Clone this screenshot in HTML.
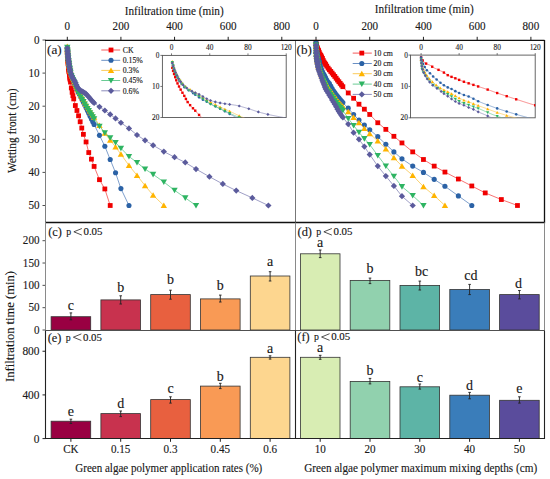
<!DOCTYPE html><html><head><meta charset="utf-8"><style>html,body{margin:0;padding:0;width:550px;height:479px;overflow:hidden;background:#fff;font-family:"Liberation Serif", serif} text{stroke:currentColor;stroke-width:0.12px;paint-order:fill}</style></head><body><svg width="550" height="479" viewBox="0 0 550 479" style="position:absolute;left:0;top:0">
<rect width="550" height="479" fill="#fff"/>
<g font-family='"Liberation Serif", serif' fill="#1a1a1a">
<text x="174.2" y="15" font-size="11.8" text-anchor="middle" textLength="99" lengthAdjust="spacingAndGlyphs">Infiltration time (min)</text>
<text x="424.2" y="13.1" font-size="11.8" text-anchor="middle" textLength="99" lengthAdjust="spacingAndGlyphs">Infiltration time (min)</text>
<text x="67.3" y="29.9" font-size="12" text-anchor="middle" textLength="5.55" lengthAdjust="spacingAndGlyphs">0</text>
<text x="316" y="29.9" font-size="12" text-anchor="middle" textLength="5.55" lengthAdjust="spacingAndGlyphs">0</text>
<text x="120.92" y="29.9" font-size="12" text-anchor="middle" textLength="16.65" lengthAdjust="spacingAndGlyphs">200</text>
<text x="369.73" y="29.9" font-size="12" text-anchor="middle" textLength="16.65" lengthAdjust="spacingAndGlyphs">200</text>
<text x="174.55" y="29.9" font-size="12" text-anchor="middle" textLength="16.65" lengthAdjust="spacingAndGlyphs">400</text>
<text x="423.45" y="29.9" font-size="12" text-anchor="middle" textLength="16.65" lengthAdjust="spacingAndGlyphs">400</text>
<text x="228.18" y="29.9" font-size="12" text-anchor="middle" textLength="16.65" lengthAdjust="spacingAndGlyphs">600</text>
<text x="477.18" y="29.9" font-size="12" text-anchor="middle" textLength="16.65" lengthAdjust="spacingAndGlyphs">600</text>
<text x="281.8" y="29.9" font-size="12" text-anchor="middle" textLength="16.65" lengthAdjust="spacingAndGlyphs">800</text>
<text x="530.9" y="29.9" font-size="12" text-anchor="middle" textLength="16.65" lengthAdjust="spacingAndGlyphs">800</text>
<text x="39.5" y="43.6" font-size="12" text-anchor="end" textLength="5.55" lengthAdjust="spacingAndGlyphs">0</text>
<text x="39.5" y="76.7" font-size="12" text-anchor="end" textLength="11.1" lengthAdjust="spacingAndGlyphs">10</text>
<text x="39.5" y="109.8" font-size="12" text-anchor="end" textLength="11.1" lengthAdjust="spacingAndGlyphs">20</text>
<text x="39.5" y="142.9" font-size="12" text-anchor="end" textLength="11.1" lengthAdjust="spacingAndGlyphs">30</text>
<text x="39.5" y="176" font-size="12" text-anchor="end" textLength="11.1" lengthAdjust="spacingAndGlyphs">40</text>
<text x="39.5" y="209.1" font-size="12" text-anchor="end" textLength="11.1" lengthAdjust="spacingAndGlyphs">50</text>
<text x="0" y="0" font-size="11.5" text-anchor="middle" textLength="84.5" lengthAdjust="spacingAndGlyphs" transform="translate(16.1,130.7) rotate(-90)">Wetting front (cm)</text>
<text x="39.5" y="333.5" font-size="12" text-anchor="end" textLength="5.55" lengthAdjust="spacingAndGlyphs">0</text>
<text x="39.5" y="311.18" font-size="12" text-anchor="end" textLength="11.1" lengthAdjust="spacingAndGlyphs">50</text>
<text x="39.5" y="288.85" font-size="12" text-anchor="end" textLength="16.65" lengthAdjust="spacingAndGlyphs">100</text>
<text x="39.5" y="266.52" font-size="12" text-anchor="end" textLength="16.65" lengthAdjust="spacingAndGlyphs">150</text>
<text x="39.5" y="244.2" font-size="12" text-anchor="end" textLength="16.65" lengthAdjust="spacingAndGlyphs">200</text>
<text x="39.5" y="442.7" font-size="12.5" text-anchor="end" textLength="5.7" lengthAdjust="spacingAndGlyphs">0</text>
<text x="39.5" y="399.02" font-size="12.5" text-anchor="end" textLength="17.1" lengthAdjust="spacingAndGlyphs">400</text>
<text x="39.5" y="355.34" font-size="12.5" text-anchor="end" textLength="17.1" lengthAdjust="spacingAndGlyphs">800</text>
<text x="0" y="0" font-size="12.2" text-anchor="middle" textLength="111" lengthAdjust="spacingAndGlyphs" transform="translate(14,326.5) rotate(-90)">Infiltration time (min)</text>
<text x="70.9" y="453.3" font-size="12" text-anchor="middle" textLength="15.42" lengthAdjust="spacingAndGlyphs">CK</text>
<text x="320.2" y="453.3" font-size="12" text-anchor="middle" textLength="11.1" lengthAdjust="spacingAndGlyphs">10</text>
<text x="120.7" y="453.3" font-size="12" text-anchor="middle" textLength="19.43" lengthAdjust="spacingAndGlyphs">0.15</text>
<text x="370" y="453.3" font-size="12" text-anchor="middle" textLength="11.1" lengthAdjust="spacingAndGlyphs">20</text>
<text x="170.5" y="453.3" font-size="12" text-anchor="middle" textLength="13.88" lengthAdjust="spacingAndGlyphs">0.3</text>
<text x="419.8" y="453.3" font-size="12" text-anchor="middle" textLength="11.1" lengthAdjust="spacingAndGlyphs">30</text>
<text x="220.3" y="453.3" font-size="12" text-anchor="middle" textLength="19.43" lengthAdjust="spacingAndGlyphs">0.45</text>
<text x="469.6" y="453.3" font-size="12" text-anchor="middle" textLength="11.1" lengthAdjust="spacingAndGlyphs">40</text>
<text x="270.1" y="453.3" font-size="12" text-anchor="middle" textLength="13.88" lengthAdjust="spacingAndGlyphs">0.6</text>
<text x="519.4" y="453.3" font-size="12" text-anchor="middle" textLength="11.1" lengthAdjust="spacingAndGlyphs">50</text>
<text x="168.8" y="471.5" font-size="12" text-anchor="middle" textLength="187" lengthAdjust="spacingAndGlyphs">Green algae polymer application rates (%)</text>
<text x="420.7" y="471.5" font-size="12" text-anchor="middle" textLength="233" lengthAdjust="spacingAndGlyphs">Green algae polymer maximum mixing depths (cm)</text>
<text x="47" y="53.5" font-size="13.2" text-anchor="start" >(a)</text>
<text x="296.5" y="53.5" font-size="13.2" text-anchor="start" >(b)</text>
<text x="48.2" y="236.1" font-size="12.4" text-anchor="start" >(c)</text>
<text x="66.26" y="235.2" font-size="9.8" text-anchor="start" >p</text>
<path d="M81.86 228.5L73.86 231.8L81.86 235.1" stroke="#333" stroke-width="0.85" fill="none"/>
<text x="83.46" y="235.2" font-size="10" text-anchor="start" textLength="19" lengthAdjust="spacingAndGlyphs">0.05</text>
<text x="297.5" y="236.1" font-size="12.4" text-anchor="start" >(d)</text>
<text x="316.26" y="235.2" font-size="9.8" text-anchor="start" >p</text>
<path d="M331.86 228.5L323.86 231.8L331.86 235.1" stroke="#333" stroke-width="0.85" fill="none"/>
<text x="333.46" y="235.2" font-size="10" text-anchor="start" textLength="19" lengthAdjust="spacingAndGlyphs">0.05</text>
<text x="47.7" y="341.5" font-size="12.4" text-anchor="start" >(e)</text>
<text x="65.76" y="340.6" font-size="9.8" text-anchor="start" >p</text>
<path d="M81.36 333.9L73.36 337.2L81.36 340.5" stroke="#333" stroke-width="0.85" fill="none"/>
<text x="82.96" y="340.6" font-size="10" text-anchor="start" textLength="19" lengthAdjust="spacingAndGlyphs">0.05</text>
<text x="297.3" y="341.3" font-size="12.4" text-anchor="start" >(f)</text>
<text x="313.99" y="340.4" font-size="9.8" text-anchor="start" >p</text>
<path d="M329.59 333.7L321.59 337L329.59 340.3" stroke="#333" stroke-width="0.85" fill="none"/>
<text x="331.19" y="340.4" font-size="10" text-anchor="start" textLength="19" lengthAdjust="spacingAndGlyphs">0.05</text>
</g>
<path d="M42.5 40H45.5 M42.5 73.1H45.5 M42.5 106.2H45.5 M42.5 139.3H45.5 M42.5 172.4H45.5 M42.5 205.5H45.5 M42.5 330H45.5 M42.5 307.68H45.5 M42.5 285.35H45.5 M42.5 263.02H45.5 M42.5 240.7H45.5" stroke="#505050" stroke-width="1" fill="none"/>
<path d="M67.3 40V36.8 M316 40V36.8 M120.92 40V36.8 M369.73 40V36.8 M174.55 40V36.8 M423.45 40V36.8 M228.18 40V36.8 M477.18 40V36.8 M281.8 40V36.8 M530.9 40V36.8 M42.5 438.6H45.5 M42.5 394.92H45.5 M42.5 351.24H45.5 M70.9 438.5V441.8 M320.2 438.5V441.8 M120.7 438.5V441.8 M370 438.5V441.8 M170.5 438.5V441.8 M419.8 438.5V441.8 M220.3 438.5V441.8 M469.6 438.5V441.8 M270.1 438.5V441.8 M519.4 438.5V441.8" stroke="#222" stroke-width="1" fill="none"/>
<rect x="51.1" y="316.7" width="39.6" height="13.3" fill="#990042" stroke="#333" stroke-width="0.8"/>
<path d="M70.9 312.9V319.8 M69.6 312.9H72.2 M69.6 319.8H72.2" stroke="#222" stroke-width="0.9" fill="none"/>
<text x="70.9" y="309.5" font-size="14" text-anchor="middle" font-family='"Liberation Serif", serif' fill="#1a1a1a">c</text>
<rect x="100.9" y="299.9" width="39.6" height="30.1" fill="#C8324E" stroke="#333" stroke-width="0.8"/>
<path d="M120.7 295.8V304 M119.4 295.8H122 M119.4 304H122" stroke="#222" stroke-width="0.9" fill="none"/>
<text x="120.7" y="292" font-size="14" text-anchor="middle" font-family='"Liberation Serif", serif' fill="#1a1a1a">b</text>
<rect x="150.7" y="294.6" width="39.6" height="35.4" fill="#E8603F" stroke="#333" stroke-width="0.8"/>
<path d="M170.5 290.2V299.2 M169.2 290.2H171.8 M169.2 299.2H171.8" stroke="#222" stroke-width="0.9" fill="none"/>
<text x="170.5" y="284.3" font-size="14" text-anchor="middle" font-family='"Liberation Serif", serif' fill="#1a1a1a">b</text>
<rect x="200.5" y="298.9" width="39.6" height="31.1" fill="#F99A55" stroke="#333" stroke-width="0.8"/>
<path d="M220.3 295.1V302 M219 295.1H221.6 M219 302H221.6" stroke="#222" stroke-width="0.9" fill="none"/>
<text x="220.3" y="290" font-size="14" text-anchor="middle" font-family='"Liberation Serif", serif' fill="#1a1a1a">b</text>
<rect x="250.3" y="276" width="39.6" height="54" fill="#FDD68F" stroke="#333" stroke-width="0.8"/>
<path d="M270.1 271.7V281 M268.8 271.7H271.4 M268.8 281H271.4" stroke="#222" stroke-width="0.9" fill="none"/>
<text x="270.1" y="266.3" font-size="14" text-anchor="middle" font-family='"Liberation Serif", serif' fill="#1a1a1a">a</text>
<rect x="300.4" y="253.8" width="39.6" height="76.2" fill="#D8EDB3" stroke="#333" stroke-width="0.8"/>
<path d="M320.2 250V257.6 M318.9 250H321.5 M318.9 257.6H321.5" stroke="#222" stroke-width="0.9" fill="none"/>
<text x="320.2" y="246.8" font-size="14" text-anchor="middle" font-family='"Liberation Serif", serif' fill="#1a1a1a">a</text>
<rect x="350.2" y="280.4" width="39.6" height="49.6" fill="#91D1AE" stroke="#333" stroke-width="0.8"/>
<path d="M370 278.1V283.6 M368.7 278.1H371.3 M368.7 283.6H371.3" stroke="#222" stroke-width="0.9" fill="none"/>
<text x="370" y="273.3" font-size="14" text-anchor="middle" font-family='"Liberation Serif", serif' fill="#1a1a1a">b</text>
<rect x="400" y="285.4" width="39.6" height="44.6" fill="#5DB4A6" stroke="#333" stroke-width="0.8"/>
<path d="M419.8 281.1V290 M418.5 281.1H421.1 M418.5 290H421.1" stroke="#222" stroke-width="0.9" fill="none"/>
<text x="421.5" y="275.6" font-size="14" text-anchor="middle" font-family='"Liberation Serif", serif' fill="#1a1a1a">bc</text>
<rect x="449.8" y="289.5" width="39.6" height="40.5" fill="#3A7DBA" stroke="#333" stroke-width="0.8"/>
<path d="M469.6 284.4V294.6 M468.3 284.4H470.9 M468.3 294.6H470.9" stroke="#222" stroke-width="0.9" fill="none"/>
<text x="470.9" y="279.8" font-size="14" text-anchor="middle" font-family='"Liberation Serif", serif' fill="#1a1a1a">cd</text>
<rect x="499.6" y="294.6" width="39.6" height="35.4" fill="#5A4C9C" stroke="#333" stroke-width="0.8"/>
<path d="M519.4 290.5V298.9 M518.1 290.5H520.7 M518.1 298.9H520.7" stroke="#222" stroke-width="0.9" fill="none"/>
<text x="518.6" y="287.5" font-size="14" text-anchor="middle" font-family='"Liberation Serif", serif' fill="#1a1a1a">d</text>
<rect x="51.1" y="421.2" width="39.6" height="17.4" fill="#990042" stroke="#333" stroke-width="0.8"/>
<path d="M70.9 419.2V423.5 M69.6 419.2H72.2 M69.6 423.5H72.2" stroke="#222" stroke-width="0.9" fill="none"/>
<text x="70.9" y="415.8" font-size="14" text-anchor="middle" font-family='"Liberation Serif", serif' fill="#1a1a1a">e</text>
<rect x="100.9" y="413.6" width="39.6" height="25" fill="#C8324E" stroke="#333" stroke-width="0.8"/>
<path d="M120.7 411V416.6 M119.4 411H122 M119.4 416.6H122" stroke="#222" stroke-width="0.9" fill="none"/>
<text x="120.7" y="408.2" font-size="14" text-anchor="middle" font-family='"Liberation Serif", serif' fill="#1a1a1a">d</text>
<rect x="150.7" y="399.6" width="39.6" height="39" fill="#E8603F" stroke="#333" stroke-width="0.8"/>
<path d="M170.5 396.8V403.1 M169.2 396.8H171.8 M169.2 403.1H171.8" stroke="#222" stroke-width="0.9" fill="none"/>
<text x="170.5" y="392.5" font-size="14" text-anchor="middle" font-family='"Liberation Serif", serif' fill="#1a1a1a">c</text>
<rect x="200.5" y="386.1" width="39.6" height="52.5" fill="#F99A55" stroke="#333" stroke-width="0.8"/>
<path d="M220.3 383.3V388.6 M219 383.3H221.6 M219 388.6H221.6" stroke="#222" stroke-width="0.9" fill="none"/>
<text x="220.3" y="381.2" font-size="14" text-anchor="middle" font-family='"Liberation Serif", serif' fill="#1a1a1a">b</text>
<rect x="250.3" y="357.3" width="39.6" height="81.3" fill="#FDD68F" stroke="#333" stroke-width="0.8"/>
<path d="M270.1 355.8V359.1 M268.8 355.8H271.4 M268.8 359.1H271.4" stroke="#222" stroke-width="0.9" fill="none"/>
<text x="270.1" y="353.3" font-size="14" text-anchor="middle" font-family='"Liberation Serif", serif' fill="#1a1a1a">a</text>
<rect x="300.4" y="357.3" width="39.6" height="81.3" fill="#D8EDB3" stroke="#333" stroke-width="0.8"/>
<path d="M320.2 355.3V359.3 M318.9 355.3H321.5 M318.9 359.3H321.5" stroke="#222" stroke-width="0.9" fill="none"/>
<text x="320.2" y="351.8" font-size="14" text-anchor="middle" font-family='"Liberation Serif", serif' fill="#1a1a1a">a</text>
<rect x="350.2" y="381.4" width="39.6" height="57.2" fill="#91D1AE" stroke="#333" stroke-width="0.8"/>
<path d="M370 378.4V383.9 M368.7 378.4H371.3 M368.7 383.9H371.3" stroke="#222" stroke-width="0.9" fill="none"/>
<text x="370" y="374.6" font-size="14" text-anchor="middle" font-family='"Liberation Serif", serif' fill="#1a1a1a">b</text>
<rect x="400" y="386.8" width="39.6" height="51.8" fill="#5DB4A6" stroke="#333" stroke-width="0.8"/>
<path d="M419.8 384V389.1 M418.5 384H421.1 M418.5 389.1H421.1" stroke="#222" stroke-width="0.9" fill="none"/>
<text x="419.8" y="382.2" font-size="14" text-anchor="middle" font-family='"Liberation Serif", serif' fill="#1a1a1a">c</text>
<rect x="449.8" y="395.2" width="39.6" height="43.4" fill="#3A7DBA" stroke="#333" stroke-width="0.8"/>
<path d="M469.6 392.4V398.8 M468.3 392.4H470.9 M468.3 398.8H470.9" stroke="#222" stroke-width="0.9" fill="none"/>
<text x="469.6" y="389.8" font-size="14" text-anchor="middle" font-family='"Liberation Serif", serif' fill="#1a1a1a">d</text>
<rect x="499.6" y="400.3" width="39.6" height="38.3" fill="#5A4C9C" stroke="#333" stroke-width="0.8"/>
<path d="M519.4 396.8V403.1 M518.1 396.8H520.7 M518.1 403.1H520.7" stroke="#222" stroke-width="0.9" fill="none"/>
<text x="519.4" y="393" font-size="14" text-anchor="middle" font-family='"Liberation Serif", serif' fill="#1a1a1a">e</text>
<g>
<polyline points="67.3,53.24 67.47,55.92 67.57,57.21 67.68,58.6 67.84,60.33 67.92,61.27 68.1,63.17 68.17,63.93 68.37,66.1 68.42,66.59 68.64,68.8 68.69,69.25 68.91,71.06 69.02,71.92 69.38,74.58 69.44,75.06 69.76,77.24 69.98,78.73 70.16,79.89 70.52,82.15 71.32,87.92 72.13,92.3 72.93,95.7 73.73,98.92 75.34,105.54 76.95,110.5 78.56,115.8 80.17,121.76 81.78,128.05 83.39,134.34 86.07,141.95 88.75,152.54 91.43,159.16 94.11,166.44 99.47,179.68 104.84,188.95 110.2,205.5" fill="none" stroke="#F55A5A" stroke-width="0.85"/>
<rect x="64.9" y="50.84" width="4.8" height="4.8" fill="#F00000"/>
<rect x="65.07" y="53.52" width="4.8" height="4.8" fill="#F00000"/>
<rect x="65.17" y="54.81" width="4.8" height="4.8" fill="#F00000"/>
<rect x="65.28" y="56.2" width="4.8" height="4.8" fill="#F00000"/>
<rect x="65.44" y="57.93" width="4.8" height="4.8" fill="#F00000"/>
<rect x="65.52" y="58.87" width="4.8" height="4.8" fill="#F00000"/>
<rect x="65.7" y="60.77" width="4.8" height="4.8" fill="#F00000"/>
<rect x="65.77" y="61.53" width="4.8" height="4.8" fill="#F00000"/>
<rect x="65.97" y="63.7" width="4.8" height="4.8" fill="#F00000"/>
<rect x="66.02" y="64.19" width="4.8" height="4.8" fill="#F00000"/>
<rect x="66.24" y="66.4" width="4.8" height="4.8" fill="#F00000"/>
<rect x="66.29" y="66.85" width="4.8" height="4.8" fill="#F00000"/>
<rect x="66.51" y="68.66" width="4.8" height="4.8" fill="#F00000"/>
<rect x="66.62" y="69.52" width="4.8" height="4.8" fill="#F00000"/>
<rect x="66.98" y="72.18" width="4.8" height="4.8" fill="#F00000"/>
<rect x="67.04" y="72.66" width="4.8" height="4.8" fill="#F00000"/>
<rect x="67.36" y="74.84" width="4.8" height="4.8" fill="#F00000"/>
<rect x="67.58" y="76.33" width="4.8" height="4.8" fill="#F00000"/>
<rect x="67.76" y="77.49" width="4.8" height="4.8" fill="#F00000"/>
<rect x="68.12" y="79.75" width="4.8" height="4.8" fill="#F00000"/>
<rect x="68.92" y="85.52" width="4.8" height="4.8" fill="#F00000"/>
<rect x="69.73" y="89.9" width="4.8" height="4.8" fill="#F00000"/>
<rect x="70.53" y="93.3" width="4.8" height="4.8" fill="#F00000"/>
<rect x="71.33" y="96.52" width="4.8" height="4.8" fill="#F00000"/>
<rect x="72.94" y="103.14" width="4.8" height="4.8" fill="#F00000"/>
<rect x="74.55" y="108.1" width="4.8" height="4.8" fill="#F00000"/>
<rect x="76.16" y="113.4" width="4.8" height="4.8" fill="#F00000"/>
<rect x="77.77" y="119.36" width="4.8" height="4.8" fill="#F00000"/>
<rect x="79.38" y="125.65" width="4.8" height="4.8" fill="#F00000"/>
<rect x="80.99" y="131.94" width="4.8" height="4.8" fill="#F00000"/>
<rect x="83.67" y="139.55" width="4.8" height="4.8" fill="#F00000"/>
<rect x="86.35" y="150.14" width="4.8" height="4.8" fill="#F00000"/>
<rect x="89.03" y="156.76" width="4.8" height="4.8" fill="#F00000"/>
<rect x="91.71" y="164.04" width="4.8" height="4.8" fill="#F00000"/>
<rect x="97.07" y="177.28" width="4.8" height="4.8" fill="#F00000"/>
<rect x="102.44" y="186.55" width="4.8" height="4.8" fill="#F00000"/>
<rect x="107.8" y="203.1" width="4.8" height="4.8" fill="#F00000"/>
<polyline points="67.3,47.28 67.46,49.94 67.57,51.6 67.64,52.59 67.84,55.23 67.84,55.26 68.08,57.93 68.1,58.15 68.36,60.59 68.37,60.66 68.64,62.84 68.7,63.26 68.91,64.76 69.09,65.91 69.44,68.04 69.54,68.56 69.98,70.78 70.08,71.22 70.52,73.12 71.32,75.71 72.13,77.72 72.93,79.77 73.73,81.92 74.54,84.04 75.34,86.01 76.15,87.79 76.95,89.47 78.02,91.64 79.37,94.3 80.71,96.93 82.05,99.63 83.39,102.36 84.73,105.1 86.07,107.85 87.41,110.6 88.75,113.36 90.09,116.13 91.43,118.9 92.77,121.66 94.11,124.41 99.47,135.33 104.84,146.25 110.2,159.49 115.56,172.73 120.92,188.62 128.97,205.5" fill="none" stroke="#6A90C4" stroke-width="0.85"/>
<circle cx="67.3" cy="47.28" r="2.57" fill="#2B62A6"/>
<circle cx="67.46" cy="49.94" r="2.57" fill="#2B62A6"/>
<circle cx="67.57" cy="51.6" r="2.57" fill="#2B62A6"/>
<circle cx="67.64" cy="52.59" r="2.57" fill="#2B62A6"/>
<circle cx="67.84" cy="55.23" r="2.57" fill="#2B62A6"/>
<circle cx="67.84" cy="55.26" r="2.57" fill="#2B62A6"/>
<circle cx="68.08" cy="57.93" r="2.57" fill="#2B62A6"/>
<circle cx="68.1" cy="58.15" r="2.57" fill="#2B62A6"/>
<circle cx="68.36" cy="60.59" r="2.57" fill="#2B62A6"/>
<circle cx="68.37" cy="60.66" r="2.57" fill="#2B62A6"/>
<circle cx="68.64" cy="62.84" r="2.57" fill="#2B62A6"/>
<circle cx="68.7" cy="63.26" r="2.57" fill="#2B62A6"/>
<circle cx="68.91" cy="64.76" r="2.57" fill="#2B62A6"/>
<circle cx="69.09" cy="65.91" r="2.57" fill="#2B62A6"/>
<circle cx="69.44" cy="68.04" r="2.57" fill="#2B62A6"/>
<circle cx="69.54" cy="68.56" r="2.57" fill="#2B62A6"/>
<circle cx="69.98" cy="70.78" r="2.57" fill="#2B62A6"/>
<circle cx="70.08" cy="71.22" r="2.57" fill="#2B62A6"/>
<circle cx="70.52" cy="73.12" r="2.57" fill="#2B62A6"/>
<circle cx="71.32" cy="75.71" r="2.57" fill="#2B62A6"/>
<circle cx="72.13" cy="77.72" r="2.57" fill="#2B62A6"/>
<circle cx="72.93" cy="79.77" r="2.57" fill="#2B62A6"/>
<circle cx="73.73" cy="81.92" r="2.57" fill="#2B62A6"/>
<circle cx="74.54" cy="84.04" r="2.57" fill="#2B62A6"/>
<circle cx="75.34" cy="86.01" r="2.57" fill="#2B62A6"/>
<circle cx="76.15" cy="87.79" r="2.57" fill="#2B62A6"/>
<circle cx="76.95" cy="89.47" r="2.57" fill="#2B62A6"/>
<circle cx="78.02" cy="91.64" r="2.57" fill="#2B62A6"/>
<circle cx="79.37" cy="94.3" r="2.57" fill="#2B62A6"/>
<circle cx="80.71" cy="96.93" r="2.57" fill="#2B62A6"/>
<circle cx="82.05" cy="99.63" r="2.57" fill="#2B62A6"/>
<circle cx="83.39" cy="102.36" r="2.57" fill="#2B62A6"/>
<circle cx="84.73" cy="105.1" r="2.57" fill="#2B62A6"/>
<circle cx="86.07" cy="107.85" r="2.57" fill="#2B62A6"/>
<circle cx="87.41" cy="110.6" r="2.57" fill="#2B62A6"/>
<circle cx="88.75" cy="113.36" r="2.57" fill="#2B62A6"/>
<circle cx="90.09" cy="116.13" r="2.57" fill="#2B62A6"/>
<circle cx="91.43" cy="118.9" r="2.57" fill="#2B62A6"/>
<circle cx="92.77" cy="121.66" r="2.57" fill="#2B62A6"/>
<circle cx="94.11" cy="124.41" r="2.57" fill="#2B62A6"/>
<circle cx="99.47" cy="135.33" r="2.57" fill="#2B62A6"/>
<circle cx="104.84" cy="146.25" r="2.57" fill="#2B62A6"/>
<circle cx="110.2" cy="159.49" r="2.57" fill="#2B62A6"/>
<circle cx="115.56" cy="172.73" r="2.57" fill="#2B62A6"/>
<circle cx="120.92" cy="188.62" r="2.57" fill="#2B62A6"/>
<circle cx="128.97" cy="205.5" r="2.57" fill="#2B62A6"/>
<polyline points="67.3,46.62 67.47,49.29 67.57,50.76 67.65,51.97 67.84,54.23 67.87,54.62 68.1,57.04 68.13,57.28 68.37,59.47 68.43,59.93 68.64,61.52 68.8,62.58 68.91,63.24 69.27,65.24 69.44,66.13 69.8,67.89 69.98,68.84 70.33,70.55 70.52,71.4 71.32,74.09 72.13,76.1 72.93,77.96 73.73,79.72 74.54,81.7 75.34,83.69 76.15,85.55 76.95,87.35 78.02,89.65 79.37,92.38 80.71,94.95 82.05,97.3 83.39,99.58 84.73,101.96 86.07,104.36 87.41,106.65 88.75,108.83 90.09,110.94 91.43,113.01 92.77,115.07 94.11,117.12 99.47,125.45 104.84,133.34 110.2,140.21 115.56,146.91 120.92,154.19 128.97,165.45 137.01,175.38 145.06,185.64 153.1,195.24 163.82,205.5" fill="none" stroke="#FACB5A" stroke-width="0.85"/>
<polygon points="67.3,43.62 64.11,49.14 70.49,49.14" fill="#FFB400"/>
<polygon points="67.47,46.29 64.28,51.81 70.66,51.81" fill="#FFB400"/>
<polygon points="67.57,47.76 64.38,53.28 70.76,53.28" fill="#FFB400"/>
<polygon points="67.65,48.97 64.46,54.49 70.85,54.49" fill="#FFB400"/>
<polygon points="67.84,51.23 64.64,56.75 71.03,56.75" fill="#FFB400"/>
<polygon points="67.87,51.62 64.68,57.14 71.06,57.14" fill="#FFB400"/>
<polygon points="68.1,54.04 64.91,59.56 71.3,59.56" fill="#FFB400"/>
<polygon points="68.13,54.28 64.94,59.8 71.32,59.8" fill="#FFB400"/>
<polygon points="68.37,56.47 65.18,61.99 71.56,61.99" fill="#FFB400"/>
<polygon points="68.43,56.93 65.24,62.45 71.62,62.45" fill="#FFB400"/>
<polygon points="68.64,58.52 65.45,64.03 71.83,64.03" fill="#FFB400"/>
<polygon points="68.8,59.58 65.61,65.1 71.99,65.1" fill="#FFB400"/>
<polygon points="68.91,60.24 65.72,65.76 72.1,65.76" fill="#FFB400"/>
<polygon points="69.27,62.24 66.08,67.76 72.46,67.76" fill="#FFB400"/>
<polygon points="69.44,63.13 66.25,68.65 72.64,68.65" fill="#FFB400"/>
<polygon points="69.8,64.89 66.6,70.41 72.99,70.41" fill="#FFB400"/>
<polygon points="69.98,65.84 66.79,71.36 73.17,71.36" fill="#FFB400"/>
<polygon points="70.33,67.55 67.14,73.07 73.52,73.07" fill="#FFB400"/>
<polygon points="70.52,68.4 67.33,73.92 73.71,73.92" fill="#FFB400"/>
<polygon points="71.32,71.09 68.13,76.61 74.51,76.61" fill="#FFB400"/>
<polygon points="72.13,73.1 68.93,78.62 75.32,78.62" fill="#FFB400"/>
<polygon points="72.93,74.96 69.74,80.48 76.12,80.48" fill="#FFB400"/>
<polygon points="73.73,76.72 70.54,82.24 76.93,82.24" fill="#FFB400"/>
<polygon points="74.54,78.7 71.35,84.22 77.73,84.22" fill="#FFB400"/>
<polygon points="75.34,80.69 72.15,86.21 78.54,86.21" fill="#FFB400"/>
<polygon points="76.15,82.55 72.96,88.07 79.34,88.07" fill="#FFB400"/>
<polygon points="76.95,84.35 73.76,89.87 80.14,89.87" fill="#FFB400"/>
<polygon points="78.02,86.65 74.83,92.17 81.22,92.17" fill="#FFB400"/>
<polygon points="79.37,89.38 76.17,94.9 82.56,94.9" fill="#FFB400"/>
<polygon points="80.71,91.95 77.51,97.47 83.9,97.47" fill="#FFB400"/>
<polygon points="82.05,94.3 78.85,99.82 85.24,99.82" fill="#FFB400"/>
<polygon points="83.39,96.58 80.2,102.1 86.58,102.1" fill="#FFB400"/>
<polygon points="84.73,98.96 81.54,104.48 87.92,104.48" fill="#FFB400"/>
<polygon points="86.07,101.36 82.88,106.88 89.26,106.88" fill="#FFB400"/>
<polygon points="87.41,103.65 84.22,109.17 90.6,109.17" fill="#FFB400"/>
<polygon points="88.75,105.83 85.56,111.35 91.94,111.35" fill="#FFB400"/>
<polygon points="90.09,107.94 86.9,113.46 93.28,113.46" fill="#FFB400"/>
<polygon points="91.43,110.01 88.24,115.53 94.62,115.53" fill="#FFB400"/>
<polygon points="92.77,112.07 89.58,117.59 95.96,117.59" fill="#FFB400"/>
<polygon points="94.11,114.12 90.92,119.64 97.3,119.64" fill="#FFB400"/>
<polygon points="99.47,122.45 96.28,127.97 102.67,127.97" fill="#FFB400"/>
<polygon points="104.84,130.34 101.65,135.86 108.03,135.86" fill="#FFB400"/>
<polygon points="110.2,137.21 107.01,142.73 113.39,142.73" fill="#FFB400"/>
<polygon points="115.56,143.91 112.37,149.43 118.75,149.43" fill="#FFB400"/>
<polygon points="120.92,151.19 117.73,156.72 124.12,156.72" fill="#FFB400"/>
<polygon points="128.97,162.45 125.78,167.97 132.16,167.97" fill="#FFB400"/>
<polygon points="137.01,172.38 133.82,177.9 140.2,177.9" fill="#FFB400"/>
<polygon points="145.06,182.64 141.86,188.16 148.25,188.16" fill="#FFB400"/>
<polygon points="153.1,192.24 149.91,197.76 156.29,197.76" fill="#FFB400"/>
<polygon points="163.82,202.5 160.63,208.02 167.02,208.02" fill="#FFB400"/>
<polyline points="67.3,47.28 67.46,49.96 67.57,51.64 67.64,52.62 67.84,55.23 67.84,55.29 68.09,57.94 68.1,58.05 68.37,60.44 68.39,60.6 68.64,62.51 68.75,63.26 68.91,64.32 69.17,65.91 69.44,67.4 69.67,68.56 69.98,70.18 70.19,71.21 70.52,72.72 71.32,75.45 72.13,77.52 72.93,79.4 73.73,81.27 74.54,83.02 75.34,84.83 76.15,86.9 76.95,89.19 78.02,91.97 79.37,94.59 80.71,96.93 82.05,99.25 83.39,101.59 84.73,103.93 86.07,106.2 87.41,108.4 88.75,110.58 90.09,112.72 91.43,114.8 92.77,116.83 94.11,118.78 99.47,126.19 104.84,132.68 110.2,137.77 115.56,142.61 120.92,148.24 128.97,156.51 137.01,162.47 145.06,169.09 153.1,174.39 163.82,182 174.55,190.27 185.27,197.89 196,205.5" fill="none" stroke="#6ACB94" stroke-width="0.85"/>
<polygon points="67.3,50.28 64.11,44.76 70.49,44.76" fill="#2EB462"/>
<polygon points="67.46,52.96 64.27,47.44 70.65,47.44" fill="#2EB462"/>
<polygon points="67.57,54.64 64.38,49.12 70.76,49.12" fill="#2EB462"/>
<polygon points="67.64,55.62 64.44,50.1 70.83,50.1" fill="#2EB462"/>
<polygon points="67.84,58.23 64.64,52.71 71.03,52.71" fill="#2EB462"/>
<polygon points="67.84,58.29 64.65,52.77 71.03,52.77" fill="#2EB462"/>
<polygon points="68.09,60.94 64.9,55.42 71.29,55.42" fill="#2EB462"/>
<polygon points="68.1,61.05 64.91,55.53 71.3,55.53" fill="#2EB462"/>
<polygon points="68.37,63.44 65.18,57.92 71.56,57.92" fill="#2EB462"/>
<polygon points="68.39,63.6 65.2,58.08 71.58,58.08" fill="#2EB462"/>
<polygon points="68.64,65.51 65.45,59.99 71.83,59.99" fill="#2EB462"/>
<polygon points="68.75,66.26 65.56,60.74 71.94,60.74" fill="#2EB462"/>
<polygon points="68.91,67.32 65.72,61.8 72.1,61.8" fill="#2EB462"/>
<polygon points="69.17,68.91 65.98,63.39 72.37,63.39" fill="#2EB462"/>
<polygon points="69.44,70.4 66.25,64.88 72.64,64.88" fill="#2EB462"/>
<polygon points="69.67,71.56 66.48,66.04 72.86,66.04" fill="#2EB462"/>
<polygon points="69.98,73.18 66.79,67.66 73.17,67.66" fill="#2EB462"/>
<polygon points="70.19,74.21 67,68.69 73.38,68.69" fill="#2EB462"/>
<polygon points="70.52,75.72 67.33,70.2 73.71,70.2" fill="#2EB462"/>
<polygon points="71.32,78.45 68.13,72.93 74.51,72.93" fill="#2EB462"/>
<polygon points="72.13,80.52 68.93,75 75.32,75" fill="#2EB462"/>
<polygon points="72.93,82.4 69.74,76.88 76.12,76.88" fill="#2EB462"/>
<polygon points="73.73,84.27 70.54,78.75 76.93,78.75" fill="#2EB462"/>
<polygon points="74.54,86.02 71.35,80.5 77.73,80.5" fill="#2EB462"/>
<polygon points="75.34,87.83 72.15,82.31 78.54,82.31" fill="#2EB462"/>
<polygon points="76.15,89.9 72.96,84.38 79.34,84.38" fill="#2EB462"/>
<polygon points="76.95,92.19 73.76,86.67 80.14,86.67" fill="#2EB462"/>
<polygon points="78.02,94.97 74.83,89.45 81.22,89.45" fill="#2EB462"/>
<polygon points="79.37,97.59 76.17,92.07 82.56,92.07" fill="#2EB462"/>
<polygon points="80.71,99.93 77.51,94.41 83.9,94.41" fill="#2EB462"/>
<polygon points="82.05,102.25 78.85,96.73 85.24,96.73" fill="#2EB462"/>
<polygon points="83.39,104.59 80.2,99.07 86.58,99.07" fill="#2EB462"/>
<polygon points="84.73,106.93 81.54,101.41 87.92,101.41" fill="#2EB462"/>
<polygon points="86.07,109.2 82.88,103.68 89.26,103.68" fill="#2EB462"/>
<polygon points="87.41,111.4 84.22,105.88 90.6,105.88" fill="#2EB462"/>
<polygon points="88.75,113.58 85.56,108.06 91.94,108.06" fill="#2EB462"/>
<polygon points="90.09,115.72 86.9,110.2 93.28,110.2" fill="#2EB462"/>
<polygon points="91.43,117.8 88.24,112.28 94.62,112.28" fill="#2EB462"/>
<polygon points="92.77,119.83 89.58,114.31 95.96,114.31" fill="#2EB462"/>
<polygon points="94.11,121.78 90.92,116.26 97.3,116.26" fill="#2EB462"/>
<polygon points="99.47,129.19 96.28,123.67 102.67,123.67" fill="#2EB462"/>
<polygon points="104.84,135.68 101.65,130.16 108.03,130.16" fill="#2EB462"/>
<polygon points="110.2,140.77 107.01,135.25 113.39,135.25" fill="#2EB462"/>
<polygon points="115.56,145.61 112.37,140.09 118.75,140.09" fill="#2EB462"/>
<polygon points="120.92,151.24 117.73,145.72 124.12,145.72" fill="#2EB462"/>
<polygon points="128.97,159.51 125.78,153.99 132.16,153.99" fill="#2EB462"/>
<polygon points="137.01,165.47 133.82,159.95 140.2,159.95" fill="#2EB462"/>
<polygon points="145.06,172.09 141.86,166.57 148.25,166.57" fill="#2EB462"/>
<polygon points="153.1,177.39 149.91,171.87 156.29,171.87" fill="#2EB462"/>
<polygon points="163.82,185 160.63,179.48 167.02,179.48" fill="#2EB462"/>
<polygon points="174.55,193.27 171.36,187.75 177.74,187.75" fill="#2EB462"/>
<polygon points="185.27,200.89 182.08,195.37 188.47,195.37" fill="#2EB462"/>
<polygon points="196,208.5 192.81,202.98 199.19,202.98" fill="#2EB462"/>
<polyline points="67.3,48.27 67.51,50.93 67.57,51.56 67.75,53.6 67.84,54.54 68.01,56.25 68.1,57.15 68.3,58.9 68.37,59.48 68.64,61.56 68.64,61.58 68.91,63.51 69.01,64.23 69.43,66.89 69.44,66.95 69.94,69.54 69.98,69.76 70.52,72.13 71.32,74.7 72.13,76.65 72.93,78.38 73.73,79.85 74.54,81.02 75.34,82.47 76.15,84.42 76.95,86.22 78.02,88.11 79.37,89.57 80.71,90.64 82.05,91.48 83.39,92.21 84.73,92.93 86.07,93.97 87.41,95.38 88.75,96.93 90.09,98.6 91.43,100.24 92.77,101.65 94.11,102.89 99.47,106.86 104.84,110.5 110.2,114.47 115.56,118.45 120.92,122.75 128.97,128.38 137.01,135 145.06,140.29 153.1,145.26 163.82,151.55 174.55,157.17 185.27,162.47 196,169.09 209.41,176.7 222.81,183.99 236.22,190.6 252.31,197.89 268.39,205.5" fill="none" stroke="#8E8EBC" stroke-width="0.85"/>
<polygon points="67.3,45.16 70.42,48.27 67.3,51.39 64.18,48.27" fill="#5B5B9C"/>
<polygon points="67.51,47.81 70.63,50.93 67.51,54.05 64.39,50.93" fill="#5B5B9C"/>
<polygon points="67.57,48.44 70.69,51.56 67.57,54.68 64.45,51.56" fill="#5B5B9C"/>
<polygon points="67.75,50.48 70.87,53.6 67.75,56.72 64.63,53.6" fill="#5B5B9C"/>
<polygon points="67.84,51.42 70.96,54.54 67.84,57.66 64.72,54.54" fill="#5B5B9C"/>
<polygon points="68.01,53.13 71.13,56.25 68.01,59.37 64.89,56.25" fill="#5B5B9C"/>
<polygon points="68.1,54.03 71.22,57.15 68.1,60.27 64.98,57.15" fill="#5B5B9C"/>
<polygon points="68.3,55.78 71.42,58.9 68.3,62.02 65.18,58.9" fill="#5B5B9C"/>
<polygon points="68.37,56.36 71.49,59.48 68.37,62.6 65.25,59.48" fill="#5B5B9C"/>
<polygon points="68.64,58.44 71.76,61.56 68.64,64.68 65.52,61.56" fill="#5B5B9C"/>
<polygon points="68.64,58.46 71.76,61.58 68.64,64.7 65.52,61.58" fill="#5B5B9C"/>
<polygon points="68.91,60.39 72.03,63.51 68.91,66.63 65.79,63.51" fill="#5B5B9C"/>
<polygon points="69.01,61.11 72.13,64.23 69.01,67.35 65.89,64.23" fill="#5B5B9C"/>
<polygon points="69.43,63.77 72.55,66.89 69.43,70.01 66.31,66.89" fill="#5B5B9C"/>
<polygon points="69.44,63.83 72.56,66.95 69.44,70.07 66.32,66.95" fill="#5B5B9C"/>
<polygon points="69.94,66.42 73.06,69.54 69.94,72.66 66.82,69.54" fill="#5B5B9C"/>
<polygon points="69.98,66.64 73.1,69.76 69.98,72.88 66.86,69.76" fill="#5B5B9C"/>
<polygon points="70.52,69.01 73.64,72.13 70.52,75.25 67.4,72.13" fill="#5B5B9C"/>
<polygon points="71.32,71.58 74.44,74.7 71.32,77.82 68.2,74.7" fill="#5B5B9C"/>
<polygon points="72.13,73.53 75.25,76.65 72.13,79.77 69.01,76.65" fill="#5B5B9C"/>
<polygon points="72.93,75.26 76.05,78.38 72.93,81.5 69.81,78.38" fill="#5B5B9C"/>
<polygon points="73.73,76.73 76.86,79.85 73.73,82.97 70.61,79.85" fill="#5B5B9C"/>
<polygon points="74.54,77.9 77.66,81.02 74.54,84.14 71.42,81.02" fill="#5B5B9C"/>
<polygon points="75.34,79.35 78.46,82.47 75.34,85.59 72.22,82.47" fill="#5B5B9C"/>
<polygon points="76.15,81.3 79.27,84.42 76.15,87.54 73.03,84.42" fill="#5B5B9C"/>
<polygon points="76.95,83.1 80.07,86.22 76.95,89.34 73.83,86.22" fill="#5B5B9C"/>
<polygon points="78.02,84.99 81.14,88.11 78.02,91.23 74.9,88.11" fill="#5B5B9C"/>
<polygon points="79.37,86.45 82.49,89.57 79.37,92.69 76.25,89.57" fill="#5B5B9C"/>
<polygon points="80.71,87.52 83.83,90.64 80.71,93.76 77.59,90.64" fill="#5B5B9C"/>
<polygon points="82.05,88.36 85.17,91.48 82.05,94.6 78.93,91.48" fill="#5B5B9C"/>
<polygon points="83.39,89.09 86.51,92.21 83.39,95.33 80.27,92.21" fill="#5B5B9C"/>
<polygon points="84.73,89.81 87.85,92.93 84.73,96.05 81.61,92.93" fill="#5B5B9C"/>
<polygon points="86.07,90.85 89.19,93.97 86.07,97.09 82.95,93.97" fill="#5B5B9C"/>
<polygon points="87.41,92.26 90.53,95.38 87.41,98.5 84.29,95.38" fill="#5B5B9C"/>
<polygon points="88.75,93.81 91.87,96.93 88.75,100.05 85.63,96.93" fill="#5B5B9C"/>
<polygon points="90.09,95.48 93.21,98.6 90.09,101.72 86.97,98.6" fill="#5B5B9C"/>
<polygon points="91.43,97.12 94.55,100.24 91.43,103.36 88.31,100.24" fill="#5B5B9C"/>
<polygon points="92.77,98.53 95.89,101.65 92.77,104.77 89.65,101.65" fill="#5B5B9C"/>
<polygon points="94.11,99.77 97.23,102.89 94.11,106.01 90.99,102.89" fill="#5B5B9C"/>
<polygon points="99.47,103.74 102.59,106.86 99.47,109.98 96.35,106.86" fill="#5B5B9C"/>
<polygon points="104.84,107.38 107.96,110.5 104.84,113.62 101.72,110.5" fill="#5B5B9C"/>
<polygon points="110.2,111.35 113.32,114.47 110.2,117.59 107.08,114.47" fill="#5B5B9C"/>
<polygon points="115.56,115.33 118.68,118.45 115.56,121.57 112.44,118.45" fill="#5B5B9C"/>
<polygon points="120.92,119.63 124.05,122.75 120.92,125.87 117.8,122.75" fill="#5B5B9C"/>
<polygon points="128.97,125.26 132.09,128.38 128.97,131.5 125.85,128.38" fill="#5B5B9C"/>
<polygon points="137.01,131.88 140.13,135 137.01,138.12 133.89,135" fill="#5B5B9C"/>
<polygon points="145.06,137.17 148.18,140.29 145.06,143.41 141.94,140.29" fill="#5B5B9C"/>
<polygon points="153.1,142.14 156.22,145.26 153.1,148.38 149.98,145.26" fill="#5B5B9C"/>
<polygon points="163.82,148.43 166.94,151.55 163.82,154.67 160.7,151.55" fill="#5B5B9C"/>
<polygon points="174.55,154.05 177.67,157.17 174.55,160.29 171.43,157.17" fill="#5B5B9C"/>
<polygon points="185.27,159.35 188.39,162.47 185.27,165.59 182.15,162.47" fill="#5B5B9C"/>
<polygon points="196,165.97 199.12,169.09 196,172.21 192.88,169.09" fill="#5B5B9C"/>
<polygon points="209.41,173.58 212.53,176.7 209.41,179.82 206.29,176.7" fill="#5B5B9C"/>
<polygon points="222.81,180.87 225.93,183.99 222.81,187.11 219.69,183.99" fill="#5B5B9C"/>
<polygon points="236.22,187.48 239.34,190.6 236.22,193.72 233.1,190.6" fill="#5B5B9C"/>
<polygon points="252.31,194.77 255.43,197.89 252.31,201.01 249.19,197.89" fill="#5B5B9C"/>
<polygon points="268.39,202.38 271.51,205.5 268.39,208.62 265.27,205.5" fill="#5B5B9C"/>
<polyline points="316,42.32 316.27,44.48 316.34,44.98 316.54,46.09 316.81,47.22 316.92,47.63 317.07,48.11 317.34,48.79 317.61,49.31 318.15,50.14 318.24,50.28 318.69,51.1 319.22,52.47 320.03,54.13 320.84,55.42 321.64,56.87 322.45,58.45 323.25,60.54 324.06,62.15 324.86,63.34 325.67,64.49 326.75,66.15 328.09,68.14 329.43,69.79 330.77,71.44 332.12,73.1 333.46,74.74 334.8,76.41 336.15,78.23 337.49,80.05 338.83,81.73 340.18,83.36 341.52,85.03 342.86,86.67 348.24,92.96 353.61,98.26 358.98,104.21 364.35,109.18 369.73,114.47 377.78,122.75 385.84,129.37 393.9,136.32 401.96,142.94 412.7,151.88 423.45,159.49 434.19,166.11 444.94,172.07 458.37,179.02 471.8,185.97 485.23,192.92 501.35,199.54 517.47,205.5" fill="none" stroke="#F55A5A" stroke-width="0.85"/>
<rect x="313.6" y="39.92" width="4.8" height="4.8" fill="#F00000"/>
<rect x="313.87" y="42.08" width="4.8" height="4.8" fill="#F00000"/>
<rect x="313.94" y="42.58" width="4.8" height="4.8" fill="#F00000"/>
<rect x="314.14" y="43.69" width="4.8" height="4.8" fill="#F00000"/>
<rect x="314.41" y="44.82" width="4.8" height="4.8" fill="#F00000"/>
<rect x="314.52" y="45.23" width="4.8" height="4.8" fill="#F00000"/>
<rect x="314.67" y="45.71" width="4.8" height="4.8" fill="#F00000"/>
<rect x="314.94" y="46.39" width="4.8" height="4.8" fill="#F00000"/>
<rect x="315.21" y="46.91" width="4.8" height="4.8" fill="#F00000"/>
<rect x="315.75" y="47.74" width="4.8" height="4.8" fill="#F00000"/>
<rect x="315.84" y="47.88" width="4.8" height="4.8" fill="#F00000"/>
<rect x="316.29" y="48.7" width="4.8" height="4.8" fill="#F00000"/>
<rect x="316.82" y="50.07" width="4.8" height="4.8" fill="#F00000"/>
<rect x="317.63" y="51.73" width="4.8" height="4.8" fill="#F00000"/>
<rect x="318.44" y="53.02" width="4.8" height="4.8" fill="#F00000"/>
<rect x="319.24" y="54.47" width="4.8" height="4.8" fill="#F00000"/>
<rect x="320.05" y="56.05" width="4.8" height="4.8" fill="#F00000"/>
<rect x="320.85" y="58.14" width="4.8" height="4.8" fill="#F00000"/>
<rect x="321.66" y="59.75" width="4.8" height="4.8" fill="#F00000"/>
<rect x="322.46" y="60.94" width="4.8" height="4.8" fill="#F00000"/>
<rect x="323.27" y="62.09" width="4.8" height="4.8" fill="#F00000"/>
<rect x="324.35" y="63.75" width="4.8" height="4.8" fill="#F00000"/>
<rect x="325.69" y="65.73" width="4.8" height="4.8" fill="#F00000"/>
<rect x="327.03" y="67.39" width="4.8" height="4.8" fill="#F00000"/>
<rect x="328.37" y="69.04" width="4.8" height="4.8" fill="#F00000"/>
<rect x="329.72" y="70.7" width="4.8" height="4.8" fill="#F00000"/>
<rect x="331.06" y="72.34" width="4.8" height="4.8" fill="#F00000"/>
<rect x="332.4" y="74.01" width="4.8" height="4.8" fill="#F00000"/>
<rect x="333.75" y="75.83" width="4.8" height="4.8" fill="#F00000"/>
<rect x="335.09" y="77.65" width="4.8" height="4.8" fill="#F00000"/>
<rect x="336.43" y="79.33" width="4.8" height="4.8" fill="#F00000"/>
<rect x="337.78" y="80.96" width="4.8" height="4.8" fill="#F00000"/>
<rect x="339.12" y="82.63" width="4.8" height="4.8" fill="#F00000"/>
<rect x="340.46" y="84.27" width="4.8" height="4.8" fill="#F00000"/>
<rect x="345.84" y="90.56" width="4.8" height="4.8" fill="#F00000"/>
<rect x="351.21" y="95.86" width="4.8" height="4.8" fill="#F00000"/>
<rect x="356.58" y="101.81" width="4.8" height="4.8" fill="#F00000"/>
<rect x="361.95" y="106.78" width="4.8" height="4.8" fill="#F00000"/>
<rect x="367.33" y="112.07" width="4.8" height="4.8" fill="#F00000"/>
<rect x="375.38" y="120.35" width="4.8" height="4.8" fill="#F00000"/>
<rect x="383.44" y="126.97" width="4.8" height="4.8" fill="#F00000"/>
<rect x="391.5" y="133.92" width="4.8" height="4.8" fill="#F00000"/>
<rect x="399.56" y="140.54" width="4.8" height="4.8" fill="#F00000"/>
<rect x="410.31" y="149.48" width="4.8" height="4.8" fill="#F00000"/>
<rect x="421.05" y="157.09" width="4.8" height="4.8" fill="#F00000"/>
<rect x="431.8" y="163.71" width="4.8" height="4.8" fill="#F00000"/>
<rect x="442.54" y="169.67" width="4.8" height="4.8" fill="#F00000"/>
<rect x="455.97" y="176.62" width="4.8" height="4.8" fill="#F00000"/>
<rect x="469.4" y="183.57" width="4.8" height="4.8" fill="#F00000"/>
<rect x="482.83" y="190.52" width="4.8" height="4.8" fill="#F00000"/>
<rect x="498.95" y="197.14" width="4.8" height="4.8" fill="#F00000"/>
<rect x="515.07" y="203.1" width="4.8" height="4.8" fill="#F00000"/>
<polyline points="316,42.65 316.16,45.3 316.27,46.57 316.41,47.95 316.54,49.01 316.74,50.61 316.81,51.07 317.07,52.93 317.13,53.26 317.34,54.54 317.61,55.84 317.63,55.91 318.15,57.89 318.34,58.57 318.69,59.89 319.04,61.22 319.22,61.92 320.03,64.73 320.84,67.25 321.64,69.7 322.45,71.9 323.25,73.6 324.06,74.92 324.86,76.28 325.67,78.06 326.75,80.05 328.09,82.04 329.43,83.69 330.77,86.01 332.12,88.66 333.46,90.74 334.8,92.63 336.15,94.5 337.49,96.27 338.83,97.93 340.18,99.52 341.52,101.06 342.86,102.56 348.24,108.19 353.61,114.47 358.98,120.1 364.35,125.07 369.73,129.7 377.78,136.65 385.84,144.26 393.9,151.88 401.96,158.83 412.7,166.11 423.45,172.4 434.19,179.35 444.94,186.3 458.37,195.9 471.8,205.5" fill="none" stroke="#6A90C4" stroke-width="0.85"/>
<circle cx="316" cy="42.65" r="2.57" fill="#2B62A6"/>
<circle cx="316.16" cy="45.3" r="2.57" fill="#2B62A6"/>
<circle cx="316.27" cy="46.57" r="2.57" fill="#2B62A6"/>
<circle cx="316.41" cy="47.95" r="2.57" fill="#2B62A6"/>
<circle cx="316.54" cy="49.01" r="2.57" fill="#2B62A6"/>
<circle cx="316.74" cy="50.61" r="2.57" fill="#2B62A6"/>
<circle cx="316.81" cy="51.07" r="2.57" fill="#2B62A6"/>
<circle cx="317.07" cy="52.93" r="2.57" fill="#2B62A6"/>
<circle cx="317.13" cy="53.26" r="2.57" fill="#2B62A6"/>
<circle cx="317.34" cy="54.54" r="2.57" fill="#2B62A6"/>
<circle cx="317.61" cy="55.84" r="2.57" fill="#2B62A6"/>
<circle cx="317.63" cy="55.91" r="2.57" fill="#2B62A6"/>
<circle cx="318.15" cy="57.89" r="2.57" fill="#2B62A6"/>
<circle cx="318.34" cy="58.57" r="2.57" fill="#2B62A6"/>
<circle cx="318.69" cy="59.89" r="2.57" fill="#2B62A6"/>
<circle cx="319.04" cy="61.22" r="2.57" fill="#2B62A6"/>
<circle cx="319.22" cy="61.92" r="2.57" fill="#2B62A6"/>
<circle cx="320.03" cy="64.73" r="2.57" fill="#2B62A6"/>
<circle cx="320.84" cy="67.25" r="2.57" fill="#2B62A6"/>
<circle cx="321.64" cy="69.7" r="2.57" fill="#2B62A6"/>
<circle cx="322.45" cy="71.9" r="2.57" fill="#2B62A6"/>
<circle cx="323.25" cy="73.6" r="2.57" fill="#2B62A6"/>
<circle cx="324.06" cy="74.92" r="2.57" fill="#2B62A6"/>
<circle cx="324.86" cy="76.28" r="2.57" fill="#2B62A6"/>
<circle cx="325.67" cy="78.06" r="2.57" fill="#2B62A6"/>
<circle cx="326.75" cy="80.05" r="2.57" fill="#2B62A6"/>
<circle cx="328.09" cy="82.04" r="2.57" fill="#2B62A6"/>
<circle cx="329.43" cy="83.69" r="2.57" fill="#2B62A6"/>
<circle cx="330.77" cy="86.01" r="2.57" fill="#2B62A6"/>
<circle cx="332.12" cy="88.66" r="2.57" fill="#2B62A6"/>
<circle cx="333.46" cy="90.74" r="2.57" fill="#2B62A6"/>
<circle cx="334.8" cy="92.63" r="2.57" fill="#2B62A6"/>
<circle cx="336.15" cy="94.5" r="2.57" fill="#2B62A6"/>
<circle cx="337.49" cy="96.27" r="2.57" fill="#2B62A6"/>
<circle cx="338.83" cy="97.93" r="2.57" fill="#2B62A6"/>
<circle cx="340.18" cy="99.52" r="2.57" fill="#2B62A6"/>
<circle cx="341.52" cy="101.06" r="2.57" fill="#2B62A6"/>
<circle cx="342.86" cy="102.56" r="2.57" fill="#2B62A6"/>
<circle cx="348.24" cy="108.19" r="2.57" fill="#2B62A6"/>
<circle cx="353.61" cy="114.47" r="2.57" fill="#2B62A6"/>
<circle cx="358.98" cy="120.1" r="2.57" fill="#2B62A6"/>
<circle cx="364.35" cy="125.07" r="2.57" fill="#2B62A6"/>
<circle cx="369.73" cy="129.7" r="2.57" fill="#2B62A6"/>
<circle cx="377.78" cy="136.65" r="2.57" fill="#2B62A6"/>
<circle cx="385.84" cy="144.26" r="2.57" fill="#2B62A6"/>
<circle cx="393.9" cy="151.88" r="2.57" fill="#2B62A6"/>
<circle cx="401.96" cy="158.83" r="2.57" fill="#2B62A6"/>
<circle cx="412.7" cy="166.11" r="2.57" fill="#2B62A6"/>
<circle cx="423.45" cy="172.4" r="2.57" fill="#2B62A6"/>
<circle cx="434.19" cy="179.35" r="2.57" fill="#2B62A6"/>
<circle cx="444.94" cy="186.3" r="2.57" fill="#2B62A6"/>
<circle cx="458.37" cy="195.9" r="2.57" fill="#2B62A6"/>
<circle cx="471.8" cy="205.5" r="2.57" fill="#2B62A6"/>
<polyline points="316,44.97 316.08,47.65 316.23,50.3 316.27,50.89 316.44,52.97 316.54,54 316.73,55.62 316.81,56.25 317.07,58.26 317.08,58.28 317.34,59.95 317.52,60.93 317.61,61.41 318.05,63.58 318.15,64.06 318.66,66.23 318.69,66.35 319.22,68.32 320.03,70.81 320.84,73.3 321.64,75.28 322.45,76.76 323.25,78.24 324.06,79.7 324.86,81.27 325.67,83.03 326.75,85.35 328.09,87.66 329.43,89.32 330.77,91.31 332.12,93.29 333.46,95.13 334.8,96.93 336.15,98.79 337.49,100.57 338.83,102.17 340.18,103.68 341.52,105.12 342.86,106.53 348.24,111.83 353.61,117.45 358.98,122.75 364.35,128.38 369.73,133.67 377.78,140.95 385.84,148.9 393.9,157.84 401.96,166.11 412.7,175.38 423.45,186.63 434.19,195.57 444.94,205.5" fill="none" stroke="#FACB5A" stroke-width="0.85"/>
<polygon points="316,41.97 312.81,47.49 319.19,47.49" fill="#FFB400"/>
<polygon points="316.08,44.65 312.89,50.17 319.27,50.17" fill="#FFB400"/>
<polygon points="316.23,47.3 313.04,52.82 319.42,52.82" fill="#FFB400"/>
<polygon points="316.27,47.89 313.08,53.41 319.46,53.41" fill="#FFB400"/>
<polygon points="316.44,49.97 313.24,55.49 319.63,55.49" fill="#FFB400"/>
<polygon points="316.54,51 313.35,56.52 319.73,56.52" fill="#FFB400"/>
<polygon points="316.73,52.62 313.53,58.14 319.92,58.14" fill="#FFB400"/>
<polygon points="316.81,53.25 313.61,58.77 320,58.77" fill="#FFB400"/>
<polygon points="317.07,55.26 313.88,60.78 320.27,60.78" fill="#FFB400"/>
<polygon points="317.08,55.28 313.89,60.8 320.27,60.8" fill="#FFB400"/>
<polygon points="317.34,56.95 314.15,62.47 320.54,62.47" fill="#FFB400"/>
<polygon points="317.52,57.93 314.33,63.45 320.71,63.45" fill="#FFB400"/>
<polygon points="317.61,58.41 314.42,63.93 320.8,63.93" fill="#FFB400"/>
<polygon points="318.05,60.58 314.85,66.1 321.24,66.1" fill="#FFB400"/>
<polygon points="318.15,61.06 314.96,66.58 321.34,66.58" fill="#FFB400"/>
<polygon points="318.66,63.23 315.46,68.75 321.85,68.75" fill="#FFB400"/>
<polygon points="318.69,63.35 315.49,68.87 321.88,68.87" fill="#FFB400"/>
<polygon points="319.22,65.32 316.03,70.84 322.42,70.84" fill="#FFB400"/>
<polygon points="320.03,67.81 316.84,73.33 323.22,73.33" fill="#FFB400"/>
<polygon points="320.84,70.3 317.64,75.82 324.03,75.82" fill="#FFB400"/>
<polygon points="321.64,72.28 318.45,77.8 324.83,77.8" fill="#FFB400"/>
<polygon points="322.45,73.76 319.25,79.28 325.64,79.28" fill="#FFB400"/>
<polygon points="323.25,75.24 320.06,80.76 326.44,80.76" fill="#FFB400"/>
<polygon points="324.06,76.7 320.87,82.22 327.25,82.22" fill="#FFB400"/>
<polygon points="324.86,78.27 321.67,83.79 328.06,83.79" fill="#FFB400"/>
<polygon points="325.67,80.03 322.48,85.55 328.86,85.55" fill="#FFB400"/>
<polygon points="326.75,82.35 323.55,87.87 329.94,87.87" fill="#FFB400"/>
<polygon points="328.09,84.66 324.9,90.18 331.28,90.18" fill="#FFB400"/>
<polygon points="329.43,86.32 326.24,91.84 332.62,91.84" fill="#FFB400"/>
<polygon points="330.77,88.31 327.58,93.83 333.97,93.83" fill="#FFB400"/>
<polygon points="332.12,90.29 328.93,95.81 335.31,95.81" fill="#FFB400"/>
<polygon points="333.46,92.13 330.27,97.65 336.65,97.65" fill="#FFB400"/>
<polygon points="334.8,93.93 331.61,99.45 338,99.45" fill="#FFB400"/>
<polygon points="336.15,95.79 332.95,101.31 339.34,101.31" fill="#FFB400"/>
<polygon points="337.49,97.57 334.3,103.09 340.68,103.09" fill="#FFB400"/>
<polygon points="338.83,99.17 335.64,104.69 342.03,104.69" fill="#FFB400"/>
<polygon points="340.18,100.68 336.98,106.2 343.37,106.2" fill="#FFB400"/>
<polygon points="341.52,102.12 338.33,107.64 344.71,107.64" fill="#FFB400"/>
<polygon points="342.86,103.53 339.67,109.05 346.05,109.05" fill="#FFB400"/>
<polygon points="348.24,108.83 345.04,114.35 351.43,114.35" fill="#FFB400"/>
<polygon points="353.61,114.45 350.42,119.97 356.8,119.97" fill="#FFB400"/>
<polygon points="358.98,119.75 355.79,125.27 362.17,125.27" fill="#FFB400"/>
<polygon points="364.35,125.38 361.16,130.9 367.54,130.9" fill="#FFB400"/>
<polygon points="369.73,130.67 366.53,136.19 372.92,136.19" fill="#FFB400"/>
<polygon points="377.78,137.95 374.59,143.47 380.98,143.47" fill="#FFB400"/>
<polygon points="385.84,145.9 382.65,151.42 389.03,151.42" fill="#FFB400"/>
<polygon points="393.9,154.84 390.71,160.36 397.09,160.36" fill="#FFB400"/>
<polygon points="401.96,163.11 398.77,168.63 405.15,168.63" fill="#FFB400"/>
<polygon points="412.7,172.38 409.51,177.9 415.9,177.9" fill="#FFB400"/>
<polygon points="423.45,183.63 420.26,189.15 426.64,189.15" fill="#FFB400"/>
<polygon points="434.19,192.57 431,198.09 437.39,198.09" fill="#FFB400"/>
<polygon points="444.94,202.5 441.75,208.02 448.13,208.02" fill="#FFB400"/>
<polyline points="316,44.97 316.06,47.69 316.12,50.43 316.19,53.13 316.27,54.89 316.34,55.78 316.54,57.68 316.65,58.45 316.81,59.35 317.07,61.08 317.08,61.1 317.34,62.67 317.54,63.76 317.61,64.13 318.06,66.42 318.15,66.83 318.67,69.07 318.69,69.13 319.22,70.88 320.03,73.1 320.84,75.09 321.64,77.14 322.45,79.15 323.25,80.82 324.06,82.51 324.86,84.34 325.67,86.34 326.75,88.66 328.09,90.97 329.43,92.63 330.77,94.62 332.12,96.27 333.46,98.37 334.8,100.57 336.15,102.64 337.49,104.55 338.83,106.13 340.18,107.54 341.52,108.94 342.86,110.5 348.24,118.45 353.61,125.4 358.98,132.35 364.35,138.64 369.73,144.6 377.78,155.52 385.84,166.11 393.9,176.37 401.96,186.63 412.7,195.57 423.45,205.5" fill="none" stroke="#6ACB94" stroke-width="0.85"/>
<polygon points="316,47.97 312.81,42.45 319.19,42.45" fill="#2EB462"/>
<polygon points="316.06,50.69 312.87,45.17 319.25,45.17" fill="#2EB462"/>
<polygon points="316.12,53.43 312.93,47.91 319.31,47.91" fill="#2EB462"/>
<polygon points="316.19,56.13 313,50.61 319.39,50.61" fill="#2EB462"/>
<polygon points="316.27,57.89 313.08,52.37 319.46,52.37" fill="#2EB462"/>
<polygon points="316.34,58.78 313.14,53.26 319.53,53.26" fill="#2EB462"/>
<polygon points="316.54,60.68 313.35,55.16 319.73,55.16" fill="#2EB462"/>
<polygon points="316.65,61.45 313.46,55.93 319.84,55.93" fill="#2EB462"/>
<polygon points="316.81,62.35 313.61,56.83 320,56.83" fill="#2EB462"/>
<polygon points="317.07,64.08 313.88,58.56 320.27,58.56" fill="#2EB462"/>
<polygon points="317.08,64.1 313.89,58.58 320.27,58.58" fill="#2EB462"/>
<polygon points="317.34,65.67 314.15,60.15 320.54,60.15" fill="#2EB462"/>
<polygon points="317.54,66.76 314.35,61.24 320.73,61.24" fill="#2EB462"/>
<polygon points="317.61,67.13 314.42,61.61 320.8,61.61" fill="#2EB462"/>
<polygon points="318.06,69.42 314.87,63.9 321.26,63.9" fill="#2EB462"/>
<polygon points="318.15,69.83 314.96,64.31 321.34,64.31" fill="#2EB462"/>
<polygon points="318.67,72.07 315.48,66.55 321.86,66.55" fill="#2EB462"/>
<polygon points="318.69,72.13 315.49,66.61 321.88,66.61" fill="#2EB462"/>
<polygon points="319.22,73.88 316.03,68.36 322.42,68.36" fill="#2EB462"/>
<polygon points="320.03,76.1 316.84,70.58 323.22,70.58" fill="#2EB462"/>
<polygon points="320.84,78.09 317.64,72.57 324.03,72.57" fill="#2EB462"/>
<polygon points="321.64,80.14 318.45,74.62 324.83,74.62" fill="#2EB462"/>
<polygon points="322.45,82.15 319.25,76.63 325.64,76.63" fill="#2EB462"/>
<polygon points="323.25,83.82 320.06,78.3 326.44,78.3" fill="#2EB462"/>
<polygon points="324.06,85.51 320.87,79.99 327.25,79.99" fill="#2EB462"/>
<polygon points="324.86,87.34 321.67,81.82 328.06,81.82" fill="#2EB462"/>
<polygon points="325.67,89.34 322.48,83.82 328.86,83.82" fill="#2EB462"/>
<polygon points="326.75,91.66 323.55,86.14 329.94,86.14" fill="#2EB462"/>
<polygon points="328.09,93.97 324.9,88.45 331.28,88.45" fill="#2EB462"/>
<polygon points="329.43,95.63 326.24,90.11 332.62,90.11" fill="#2EB462"/>
<polygon points="330.77,97.62 327.58,92.1 333.97,92.1" fill="#2EB462"/>
<polygon points="332.12,99.27 328.93,93.75 335.31,93.75" fill="#2EB462"/>
<polygon points="333.46,101.37 330.27,95.85 336.65,95.85" fill="#2EB462"/>
<polygon points="334.8,103.57 331.61,98.05 338,98.05" fill="#2EB462"/>
<polygon points="336.15,105.64 332.95,100.12 339.34,100.12" fill="#2EB462"/>
<polygon points="337.49,107.55 334.3,102.03 340.68,102.03" fill="#2EB462"/>
<polygon points="338.83,109.13 335.64,103.61 342.03,103.61" fill="#2EB462"/>
<polygon points="340.18,110.54 336.98,105.02 343.37,105.02" fill="#2EB462"/>
<polygon points="341.52,111.94 338.33,106.42 344.71,106.42" fill="#2EB462"/>
<polygon points="342.86,113.5 339.67,107.98 346.05,107.98" fill="#2EB462"/>
<polygon points="348.24,121.45 345.04,115.93 351.43,115.93" fill="#2EB462"/>
<polygon points="353.61,128.4 350.42,122.88 356.8,122.88" fill="#2EB462"/>
<polygon points="358.98,135.35 355.79,129.83 362.17,129.83" fill="#2EB462"/>
<polygon points="364.35,141.64 361.16,136.12 367.54,136.12" fill="#2EB462"/>
<polygon points="369.73,147.6 366.53,142.08 372.92,142.08" fill="#2EB462"/>
<polygon points="377.78,158.52 374.59,153 380.98,153" fill="#2EB462"/>
<polygon points="385.84,169.11 382.65,163.59 389.03,163.59" fill="#2EB462"/>
<polygon points="393.9,179.37 390.71,173.85 397.09,173.85" fill="#2EB462"/>
<polygon points="401.96,189.63 398.77,184.11 405.15,184.11" fill="#2EB462"/>
<polygon points="412.7,198.57 409.51,193.05 415.9,193.05" fill="#2EB462"/>
<polygon points="423.45,208.5 420.26,202.98 426.64,202.98" fill="#2EB462"/>
<polyline points="316,45.3 316.08,47.98 316.17,50.68 316.27,52.94 316.29,53.36 316.49,56.02 316.54,56.56 316.78,58.69 316.81,58.88 317.07,60.99 317.12,61.35 317.34,62.87 317.53,64.01 317.61,64.52 318.01,66.66 318.15,67.33 318.6,69.31 318.69,69.68 319.22,71.72 320.03,74.09 320.84,76.01 321.64,78.37 322.45,80.87 323.25,82.71 324.06,84.84 324.86,87.04 325.67,88.99 326.75,90.97 328.09,92.96 329.43,95.28 330.77,97.26 332.12,99.91 333.46,102.09 334.8,104.21 336.15,106.69 337.49,109.18 338.83,111.44 340.18,113.58 341.52,115.59 342.86,117.45 348.24,124.07 353.61,132.68 358.98,139.3 364.35,146.58 369.73,154.53 377.78,166.11 385.84,176.04 393.9,185.97 401.96,196.23 412.7,205.5" fill="none" stroke="#8E8EBC" stroke-width="0.85"/>
<polygon points="316,42.18 319.12,45.3 316,48.42 312.88,45.3" fill="#5B5B9C"/>
<polygon points="316.08,44.86 319.2,47.98 316.08,51.1 312.96,47.98" fill="#5B5B9C"/>
<polygon points="316.17,47.56 319.29,50.68 316.17,53.8 313.05,50.68" fill="#5B5B9C"/>
<polygon points="316.27,49.82 319.39,52.94 316.27,56.06 313.15,52.94" fill="#5B5B9C"/>
<polygon points="316.29,50.24 319.41,53.36 316.29,56.48 313.17,53.36" fill="#5B5B9C"/>
<polygon points="316.49,52.9 319.61,56.02 316.49,59.14 313.37,56.02" fill="#5B5B9C"/>
<polygon points="316.54,53.44 319.66,56.56 316.54,59.68 313.42,56.56" fill="#5B5B9C"/>
<polygon points="316.78,55.57 319.9,58.69 316.78,61.81 313.66,58.69" fill="#5B5B9C"/>
<polygon points="316.81,55.76 319.93,58.88 316.81,62 313.69,58.88" fill="#5B5B9C"/>
<polygon points="317.07,57.87 320.19,60.99 317.07,64.11 313.95,60.99" fill="#5B5B9C"/>
<polygon points="317.12,58.23 320.24,61.35 317.12,64.47 314,61.35" fill="#5B5B9C"/>
<polygon points="317.34,59.75 320.46,62.87 317.34,65.99 314.22,62.87" fill="#5B5B9C"/>
<polygon points="317.53,60.89 320.65,64.01 317.53,67.13 314.41,64.01" fill="#5B5B9C"/>
<polygon points="317.61,61.4 320.73,64.52 317.61,67.64 314.49,64.52" fill="#5B5B9C"/>
<polygon points="318.01,63.54 321.13,66.66 318.01,69.78 314.89,66.66" fill="#5B5B9C"/>
<polygon points="318.15,64.21 321.27,67.33 318.15,70.45 315.03,67.33" fill="#5B5B9C"/>
<polygon points="318.6,66.19 321.72,69.31 318.6,72.43 315.48,69.31" fill="#5B5B9C"/>
<polygon points="318.69,66.56 321.81,69.68 318.69,72.8 315.57,69.68" fill="#5B5B9C"/>
<polygon points="319.22,68.6 322.34,71.72 319.22,74.84 316.1,71.72" fill="#5B5B9C"/>
<polygon points="320.03,70.97 323.15,74.09 320.03,77.21 316.91,74.09" fill="#5B5B9C"/>
<polygon points="320.84,72.89 323.96,76.01 320.84,79.13 317.72,76.01" fill="#5B5B9C"/>
<polygon points="321.64,75.25 324.76,78.37 321.64,81.49 318.52,78.37" fill="#5B5B9C"/>
<polygon points="322.45,77.75 325.57,80.87 322.45,83.99 319.33,80.87" fill="#5B5B9C"/>
<polygon points="323.25,79.59 326.37,82.71 323.25,85.83 320.13,82.71" fill="#5B5B9C"/>
<polygon points="324.06,81.72 327.18,84.84 324.06,87.96 320.94,84.84" fill="#5B5B9C"/>
<polygon points="324.86,83.92 327.98,87.04 324.86,90.16 321.74,87.04" fill="#5B5B9C"/>
<polygon points="325.67,85.87 328.79,88.99 325.67,92.11 322.55,88.99" fill="#5B5B9C"/>
<polygon points="326.75,87.85 329.87,90.97 326.75,94.09 323.62,90.97" fill="#5B5B9C"/>
<polygon points="328.09,89.84 331.21,92.96 328.09,96.08 324.97,92.96" fill="#5B5B9C"/>
<polygon points="329.43,92.16 332.55,95.28 329.43,98.4 326.31,95.28" fill="#5B5B9C"/>
<polygon points="330.77,94.14 333.89,97.26 330.77,100.38 327.65,97.26" fill="#5B5B9C"/>
<polygon points="332.12,96.79 335.24,99.91 332.12,103.03 329,99.91" fill="#5B5B9C"/>
<polygon points="333.46,98.97 336.58,102.09 333.46,105.21 330.34,102.09" fill="#5B5B9C"/>
<polygon points="334.8,101.09 337.92,104.21 334.8,107.33 331.68,104.21" fill="#5B5B9C"/>
<polygon points="336.15,103.57 339.27,106.69 336.15,109.81 333.03,106.69" fill="#5B5B9C"/>
<polygon points="337.49,106.06 340.61,109.18 337.49,112.3 334.37,109.18" fill="#5B5B9C"/>
<polygon points="338.83,108.32 341.95,111.44 338.83,114.56 335.71,111.44" fill="#5B5B9C"/>
<polygon points="340.18,110.46 343.3,113.58 340.18,116.7 337.06,113.58" fill="#5B5B9C"/>
<polygon points="341.52,112.47 344.64,115.59 341.52,118.71 338.4,115.59" fill="#5B5B9C"/>
<polygon points="342.86,114.33 345.98,117.45 342.86,120.57 339.74,117.45" fill="#5B5B9C"/>
<polygon points="348.24,120.95 351.36,124.07 348.24,127.19 345.12,124.07" fill="#5B5B9C"/>
<polygon points="353.61,129.56 356.73,132.68 353.61,135.8 350.49,132.68" fill="#5B5B9C"/>
<polygon points="358.98,136.18 362.1,139.3 358.98,142.42 355.86,139.3" fill="#5B5B9C"/>
<polygon points="364.35,143.46 367.47,146.58 364.35,149.7 361.23,146.58" fill="#5B5B9C"/>
<polygon points="369.73,151.41 372.85,154.53 369.73,157.65 366.61,154.53" fill="#5B5B9C"/>
<polygon points="377.78,162.99 380.9,166.11 377.78,169.23 374.66,166.11" fill="#5B5B9C"/>
<polygon points="385.84,172.92 388.96,176.04 385.84,179.16 382.72,176.04" fill="#5B5B9C"/>
<polygon points="393.9,182.85 397.02,185.97 393.9,189.09 390.78,185.97" fill="#5B5B9C"/>
<polygon points="401.96,193.11 405.08,196.23 401.96,199.35 398.84,196.23" fill="#5B5B9C"/>
<polygon points="412.7,202.38 415.82,205.5 412.7,208.62 409.58,205.5" fill="#5B5B9C"/>
</g>
<path d="M101.3 50H120.2" stroke="#F55A5A" stroke-width="1"/>
<rect x="108.6" y="47.6" width="4.8" height="4.8" fill="#F00000"/>
<text x="122.7" y="52.7" font-size="7.8" font-family='"Liberation Serif", serif' fill="#1a1a1a">CK</text>
<path d="M101.3 60.3H120.2" stroke="#6A90C4" stroke-width="1"/>
<circle cx="111" cy="60.3" r="2.57" fill="#2B62A6"/>
<text x="122.7" y="63" font-size="7.8" font-family='"Liberation Serif", serif' fill="#1a1a1a">0.15%</text>
<path d="M101.3 70.4H120.2" stroke="#FACB5A" stroke-width="1"/>
<polygon points="111,67.4 107.81,72.92 114.19,72.92" fill="#FFB400"/>
<text x="122.7" y="73.1" font-size="7.8" font-family='"Liberation Serif", serif' fill="#1a1a1a">0.3%</text>
<path d="M101.3 80.5H120.2" stroke="#6ACB94" stroke-width="1"/>
<polygon points="111,83.5 107.81,77.98 114.19,77.98" fill="#2EB462"/>
<text x="122.7" y="83.2" font-size="7.8" font-family='"Liberation Serif", serif' fill="#1a1a1a">0.45%</text>
<path d="M101.3 90.8H120.2" stroke="#8E8EBC" stroke-width="1"/>
<polygon points="111,87.68 114.12,90.8 111,93.92 107.88,90.8" fill="#5B5B9C"/>
<text x="122.7" y="93.5" font-size="7.8" font-family='"Liberation Serif", serif' fill="#1a1a1a">0.6%</text>
<path d="M352.7 53.1H371.8" stroke="#F55A5A" stroke-width="1"/>
<rect x="359.4" y="50.7" width="4.8" height="4.8" fill="#F00000"/>
<text x="373.6" y="55.8" font-size="7.8" font-family='"Liberation Serif", serif' fill="#1a1a1a">10 cm</text>
<path d="M352.7 63.5H371.8" stroke="#6A90C4" stroke-width="1"/>
<circle cx="361.8" cy="63.5" r="2.57" fill="#2B62A6"/>
<text x="373.6" y="66.2" font-size="7.8" font-family='"Liberation Serif", serif' fill="#1a1a1a">20 cm</text>
<path d="M352.7 73.7H371.8" stroke="#FACB5A" stroke-width="1"/>
<polygon points="361.8,70.7 358.61,76.22 364.99,76.22" fill="#FFB400"/>
<text x="373.6" y="76.4" font-size="7.8" font-family='"Liberation Serif", serif' fill="#1a1a1a">30 cm</text>
<path d="M352.7 84.1H371.8" stroke="#6ACB94" stroke-width="1"/>
<polygon points="361.8,87.1 358.61,81.58 364.99,81.58" fill="#2EB462"/>
<text x="373.6" y="86.8" font-size="7.8" font-family='"Liberation Serif", serif' fill="#1a1a1a">40 cm</text>
<path d="M352.7 94.4H371.8" stroke="#8E8EBC" stroke-width="1"/>
<polygon points="361.8,91.28 364.92,94.4 361.8,97.52 358.68,94.4" fill="#5B5B9C"/>
<text x="373.6" y="97.1" font-size="7.8" font-family='"Liberation Serif", serif' fill="#1a1a1a">50 cm</text>
<rect x="162.4" y="55.4" width="123.8" height="62.1" fill="#fff" stroke="#555" stroke-width="0.9"/>
<clipPath id="c162"><rect x="162.4" y="55.4" width="123.8" height="62.1"/></clipPath>
<g clip-path="url(#c162)">
<polyline points="172.3,67.82 172.99,70.6 173.68,72.92 174.38,74.93 175.07,76.85 175.76,78.84 176.45,80.79 177.14,82.56 177.83,84.11 178.53,85.54 179.22,86.89 179.91,88.22 180.6,89.5 181.29,90.73 181.98,91.95 182.68,93.12 183.37,94.26 184.06,95.43 184.75,96.69 185.44,98.03 186.14,99.39 186.83,100.7 187.52,101.86 188.21,102.85 188.9,103.73 189.59,104.56 190.29,105.37 190.98,106.15 191.67,106.9 192.36,107.63 193.05,108.36 193.75,109.08 194.44,109.81 195.13,110.54 195.82,111.3 196.51,112.08 197.2,112.86 197.9,113.64 198.59,114.41 199.28,115.17 199.97,115.89 200.66,116.58 201.35,117.22 202.05,117.82 202.74,118.39 203.43,118.95 204.12,119.48 204.81,120.02 205.51,120.56" fill="none" stroke="#F55A5A" stroke-width="0.7"/>
<rect x="171.1" y="66.62" width="2.4" height="2.4" fill="#F00000"/>
<rect x="171.88" y="69.74" width="2.4" height="2.4" fill="#F00000"/>
<rect x="172.87" y="72.86" width="2.4" height="2.4" fill="#F00000"/>
<rect x="173.98" y="75.97" width="2.4" height="2.4" fill="#F00000"/>
<rect x="175.06" y="79.08" width="2.4" height="2.4" fill="#F00000"/>
<rect x="176.31" y="82.19" width="2.4" height="2.4" fill="#F00000"/>
<rect x="177.82" y="85.31" width="2.4" height="2.4" fill="#F00000"/>
<rect x="179.47" y="88.42" width="2.4" height="2.4" fill="#F00000"/>
<rect x="181.25" y="91.53" width="2.4" height="2.4" fill="#F00000"/>
<rect x="183.09" y="94.64" width="2.4" height="2.4" fill="#F00000"/>
<rect x="184.71" y="97.75" width="2.4" height="2.4" fill="#F00000"/>
<rect x="186.45" y="100.86" width="2.4" height="2.4" fill="#F00000"/>
<rect x="188.91" y="103.97" width="2.4" height="2.4" fill="#F00000"/>
<rect x="191.78" y="107.08" width="2.4" height="2.4" fill="#F00000"/>
<rect x="194.04" y="109.47" width="2.4" height="2.4" fill="#F00000"/>
<rect x="197.87" y="113.74" width="2.4" height="2.4" fill="#F00000"/>
<polyline points="172.3,62.23 172.99,65.22 173.68,67.91 174.38,70.18 175.07,72.15 175.76,73.92 176.45,75.51 177.14,76.95 177.83,78.26 178.53,79.47 179.22,80.6 179.91,81.64 180.6,82.62 181.29,83.55 181.98,84.43 182.68,85.26 183.37,86.04 184.06,86.76 184.75,87.4 185.44,87.99 186.14,88.53 186.83,89.03 187.52,89.51 188.21,89.96 188.9,90.4 189.59,90.84 190.29,91.28 190.98,91.74 191.67,92.21 192.36,92.69 193.05,93.18 193.75,93.67 194.44,94.15 195.13,94.64 195.82,95.13 196.51,95.61 197.2,96.09 197.9,96.56 198.59,97.03 199.28,97.48 199.97,97.93 200.66,98.36 201.35,98.79 202.05,99.2 202.74,99.6 203.43,100 204.12,100.39 204.81,100.77 205.51,101.15 206.2,101.52 206.89,101.9 207.58,102.26 208.27,102.63 208.96,103 209.66,103.37 210.35,103.74 211.04,104.1 211.73,104.47 212.42,104.83 213.11,105.19 213.81,105.55 214.5,105.91 215.19,106.27 215.88,106.62 216.57,106.98 217.27,107.33 217.96,107.69 218.65,108.05 219.34,108.41 220.03,108.77 220.72,109.14 221.42,109.5 222.11,109.87 222.8,110.23 223.49,110.6 224.18,110.97 224.88,111.34 225.57,111.71 226.26,112.08 226.95,112.45 227.64,112.82 228.33,113.19 229.03,113.56 229.72,113.93 230.41,114.3 231.1,114.67 231.79,115.05 232.48,115.42 233.18,115.79 233.87,116.16 234.56,116.54 235.25,116.91 235.94,117.28 236.64,117.65 237.33,118.02 238.02,118.4 238.71,118.77 239.4,119.14 240.09,119.52 240.79,119.89 241.48,120.26" fill="none" stroke="#6A90C4" stroke-width="0.7"/>
<circle cx="172.3" cy="62.23" r="1.28" fill="#2B62A6"/>
<circle cx="173.03" cy="65.36" r="1.28" fill="#2B62A6"/>
<circle cx="173.84" cy="68.46" r="1.28" fill="#2B62A6"/>
<circle cx="174.86" cy="71.57" r="1.28" fill="#2B62A6"/>
<circle cx="176.08" cy="74.68" r="1.28" fill="#2B62A6"/>
<circle cx="177.58" cy="77.8" r="1.28" fill="#2B62A6"/>
<circle cx="179.42" cy="80.91" r="1.28" fill="#2B62A6"/>
<circle cx="181.66" cy="84.02" r="1.28" fill="#2B62A6"/>
<circle cx="184.45" cy="87.13" r="1.28" fill="#2B62A6"/>
<circle cx="188.64" cy="90.23" r="1.28" fill="#2B62A6"/>
<circle cx="193.28" cy="93.34" r="1.28" fill="#2B62A6"/>
<circle cx="195.24" cy="94.72" r="1.28" fill="#2B62A6"/>
<circle cx="199.07" cy="97.35" r="1.28" fill="#2B62A6"/>
<circle cx="202.89" cy="99.69" r="1.28" fill="#2B62A6"/>
<circle cx="206.72" cy="101.8" r="1.28" fill="#2B62A6"/>
<circle cx="210.54" cy="103.84" r="1.28" fill="#2B62A6"/>
<circle cx="215.32" cy="106.33" r="1.28" fill="#2B62A6"/>
<circle cx="220.1" cy="108.81" r="1.28" fill="#2B62A6"/>
<circle cx="224.88" cy="111.34" r="1.28" fill="#2B62A6"/>
<circle cx="229.66" cy="113.9" r="1.28" fill="#2B62A6"/>
<polyline points="172.3,61.61 172.99,64.47 173.68,67.05 174.38,69.23 175.07,71.13 175.76,72.83 176.45,74.36 177.14,75.7 177.83,76.88 178.53,77.95 179.22,78.93 179.91,79.86 180.6,80.77 181.29,81.69 181.98,82.62 182.68,83.52 183.37,84.38 184.06,85.17 184.75,85.85 185.44,86.45 186.14,87 186.83,87.51 187.52,87.99 188.21,88.45 188.9,88.89 189.59,89.32 190.29,89.75 190.98,90.19 191.67,90.6 192.36,91 193.05,91.39 193.75,91.78 194.44,92.18 195.13,92.59 195.82,93.02 196.51,93.46 197.2,93.92 197.9,94.38 198.59,94.84 199.28,95.3 199.97,95.75 200.66,96.19 201.35,96.62 202.05,97.04 202.74,97.46 203.43,97.88 204.12,98.29 204.81,98.7 205.51,99.11 206.2,99.52 206.89,99.92 207.58,100.31 208.27,100.71 208.96,101.1 209.66,101.49 210.35,101.87 211.04,102.25 211.73,102.63 212.42,103 213.11,103.37 213.81,103.74 214.5,104.11 215.19,104.47 215.88,104.83 216.57,105.18 217.27,105.54 217.96,105.89 218.65,106.23 219.34,106.57 220.03,106.91 220.72,107.24 221.42,107.57 222.11,107.89 222.8,108.21 223.49,108.52 224.18,108.84 224.88,109.15 225.57,109.45 226.26,109.76 226.95,110.07 227.64,110.38 228.33,110.69 229.03,111 229.72,111.32 230.41,111.64 231.1,111.96 231.79,112.28 232.48,112.6 233.18,112.93 233.87,113.26 234.56,113.58 235.25,113.91 235.94,114.24 236.64,114.56 237.33,114.89 238.02,115.21 238.71,115.53 239.4,115.85 240.09,116.17 240.79,116.49 241.48,116.8 242.17,117.11 242.86,117.42 243.55,117.72 244.25,118.02 244.94,118.32 245.63,118.62 246.32,118.92 247.01,119.21 247.7,119.51 248.4,119.8 249.09,120.09 249.78,120.38" fill="none" stroke="#FACB5A" stroke-width="0.7"/>
<polygon points="172.3,60.11 170.7,62.87 173.9,62.87" fill="#FFB400"/>
<polygon points="173.06,63.23 171.46,65.99 174.65,65.99" fill="#FFB400"/>
<polygon points="173.92,66.34 172.32,69.1 175.52,69.1" fill="#FFB400"/>
<polygon points="175,69.46 173.41,72.22 176.6,72.22" fill="#FFB400"/>
<polygon points="176.31,72.57 174.72,75.33 177.91,75.33" fill="#FFB400"/>
<polygon points="178.02,75.67 176.42,78.43 179.61,78.43" fill="#FFB400"/>
<polygon points="180.23,78.78 178.63,81.54 181.83,81.54" fill="#FFB400"/>
<polygon points="182.57,81.89 180.98,84.65 184.17,84.65" fill="#FFB400"/>
<polygon points="185.5,85 183.91,87.76 187.1,87.76" fill="#FFB400"/>
<polygon points="190.05,88.1 188.46,90.86 191.65,90.86" fill="#FFB400"/>
<polygon points="195.24,91.16 193.65,93.92 196.84,93.92" fill="#FFB400"/>
<polygon points="199.07,93.66 197.47,96.42 200.66,96.42" fill="#FFB400"/>
<polygon points="202.89,96.06 201.3,98.82 204.49,98.82" fill="#FFB400"/>
<polygon points="206.72,98.32 205.12,101.08 208.31,101.08" fill="#FFB400"/>
<polygon points="210.54,100.47 208.94,103.23 212.14,103.23" fill="#FFB400"/>
<polygon points="215.32,103.04 213.72,105.8 216.92,105.8" fill="#FFB400"/>
<polygon points="220.1,105.44 218.5,108.2 221.7,108.2" fill="#FFB400"/>
<polygon points="224.88,107.65 223.28,110.41 226.48,110.41" fill="#FFB400"/>
<polygon points="229.66,109.79 228.06,112.55 231.26,112.55" fill="#FFB400"/>
<polygon points="239.22,114.27 237.62,117.03 240.82,117.03" fill="#FFB400"/>
<polyline points="172.3,62.23 172.99,65.24 173.68,67.93 174.38,70.17 175.07,72.07 175.76,73.76 176.45,75.27 177.14,76.63 177.83,77.87 178.53,79 179.22,80.05 179.91,81.04 180.6,82 181.29,82.94 181.98,83.88 182.68,84.78 183.37,85.63 184.06,86.41 184.75,87.09 185.44,87.7 186.14,88.26 186.83,88.79 187.52,89.29 188.21,89.76 188.9,90.21 189.59,90.65 190.29,91.08 190.98,91.5 191.67,91.92 192.36,92.35 193.05,92.79 193.75,93.22 194.44,93.64 195.13,94.04 195.82,94.45 196.51,94.84 197.2,95.24 197.9,95.63 198.59,96.03 199.28,96.43 199.97,96.84 200.66,97.26 201.35,97.69 202.05,98.14 202.74,98.61 203.43,99.09 204.12,99.6 204.81,100.12 205.51,100.64 206.2,101.16 206.89,101.68 207.58,102.19 208.27,102.68 208.96,103.16 209.66,103.61 210.35,104.04 211.04,104.43 211.73,104.81 212.42,105.18 213.11,105.54 213.81,105.88 214.5,106.22 215.19,106.55 215.88,106.87 216.57,107.19 217.27,107.5 217.96,107.82 218.65,108.14 219.34,108.45 220.03,108.77 220.72,109.1 221.42,109.41 222.11,109.73 222.8,110.04 223.49,110.35 224.18,110.66 224.88,110.98 225.57,111.29 226.26,111.61 226.95,111.93 227.64,112.24 228.33,112.56 229.03,112.88 229.72,113.2 230.41,113.52 231.1,113.84 231.79,114.16 232.48,114.48 233.18,114.79 233.87,115.11 234.56,115.42 235.25,115.74 235.94,116.05 236.64,116.36 237.33,116.67 238.02,116.97 238.71,117.28 239.4,117.58 240.09,117.88 240.79,118.18 241.48,118.48 242.17,118.78 242.86,119.08 243.55,119.37 244.25,119.67 244.94,119.97 245.63,120.27 246.32,120.56" fill="none" stroke="#6ACB94" stroke-width="0.7"/>
<polygon points="172.3,63.73 170.7,60.97 173.9,60.97" fill="#2EB462"/>
<polygon points="173.02,66.84 171.42,64.08 174.61,64.08" fill="#2EB462"/>
<polygon points="173.83,69.95 172.23,67.19 175.43,67.19" fill="#2EB462"/>
<polygon points="174.88,73.07 173.28,70.31 176.47,70.31" fill="#2EB462"/>
<polygon points="176.17,76.18 174.57,73.42 177.77,73.42" fill="#2EB462"/>
<polygon points="177.78,79.28 176.19,76.52 179.38,76.52" fill="#2EB462"/>
<polygon points="179.8,82.4 178.21,79.64 181.4,79.64" fill="#2EB462"/>
<polygon points="182.08,85.5 180.48,82.74 183.68,82.74" fill="#2EB462"/>
<polygon points="184.77,88.61 183.18,85.85 186.37,85.85" fill="#2EB462"/>
<polygon points="188.91,91.72 187.31,88.96 190.51,88.96" fill="#2EB462"/>
<polygon points="195.24,95.61 193.65,92.85 196.84,92.85" fill="#2EB462"/>
<polygon points="199.07,97.81 197.47,95.05 200.66,95.05" fill="#2EB462"/>
<polygon points="202.89,100.21 201.3,97.45 204.49,97.45" fill="#2EB462"/>
<polygon points="206.72,103.05 205.12,100.29 208.31,100.29" fill="#2EB462"/>
<polygon points="210.54,105.65 208.94,102.89 212.14,102.89" fill="#2EB462"/>
<polygon points="215.32,108.11 213.72,105.35 216.92,105.35" fill="#2EB462"/>
<polygon points="220.1,110.31 218.5,107.55 221.7,107.55" fill="#2EB462"/>
<polygon points="224.88,112.48 223.28,109.72 226.48,109.72" fill="#2EB462"/>
<polygon points="229.66,114.67 228.06,111.91 231.26,111.91" fill="#2EB462"/>
<polygon points="239.22,119 237.62,116.24 240.82,116.24" fill="#2EB462"/>
<polyline points="172.3,63.16 172.99,65.42 173.68,67.54 174.38,69.48 175.07,71.24 175.76,72.87 176.45,74.37 177.14,75.77 177.83,77.08 178.53,78.34 179.22,79.52 179.91,80.62 180.6,81.64 181.29,82.58 181.98,83.48 182.68,84.32 183.37,85.11 184.06,85.83 184.75,86.47 185.44,87.05 186.14,87.58 186.83,88.08 187.52,88.55 188.21,88.99 188.9,89.42 189.59,89.83 190.29,90.24 190.98,90.64 191.67,91.02 192.36,91.39 193.05,91.75 193.75,92.09 194.44,92.42 195.13,92.74 195.82,93.02 196.51,93.29 197.2,93.54 197.9,93.8 198.59,94.07 199.28,94.36 199.97,94.68 200.66,95.06 201.35,95.46 202.05,95.89 202.74,96.34 203.43,96.8 204.12,97.25 204.81,97.69 205.51,98.1 206.2,98.49 206.89,98.85 207.58,99.2 208.27,99.54 208.96,99.87 209.66,100.18 210.35,100.46 211.04,100.71 211.73,100.93 212.42,101.14 213.11,101.34 213.81,101.52 214.5,101.7 215.19,101.87 215.88,102.03 216.57,102.19 217.27,102.34 217.96,102.48 218.65,102.62 219.34,102.76 220.03,102.89 220.72,103.02 221.42,103.14 222.11,103.26 222.8,103.37 223.49,103.48 224.18,103.59 224.88,103.69 225.57,103.8 226.26,103.9 226.95,104 227.64,104.1 228.33,104.2 229.03,104.29 229.72,104.38 230.41,104.48 231.1,104.57 231.79,104.66 232.48,104.76 233.18,104.86 233.87,104.97 234.56,105.08 235.25,105.19 235.94,105.31 236.64,105.45 237.33,105.59 238.02,105.74 238.71,105.9 239.4,106.07 240.09,106.25 240.79,106.43 241.48,106.62 242.17,106.82 242.86,107.02 243.55,107.22 244.25,107.43 244.94,107.64 245.63,107.85 246.32,108.06 247.01,108.27 247.7,108.48 248.4,108.69 249.09,108.9 249.78,109.11 250.47,109.33 251.16,109.56 251.85,109.79 252.55,110.03 253.24,110.26 253.93,110.5 254.62,110.73 255.31,110.96 256.01,111.19 256.7,111.41 257.39,111.63 258.08,111.84 258.77,112.04 259.46,112.23 260.16,112.43 260.85,112.62 261.54,112.81 262.23,112.99 262.92,113.18 263.61,113.36 264.31,113.53 265,113.71 265.69,113.88 266.38,114.04 267.07,114.21 267.77,114.36 268.46,114.52 269.15,114.67 269.84,114.82 270.53,114.97 271.22,115.12 271.92,115.26 272.61,115.4 273.3,115.54 273.99,115.68 274.68,115.82 275.38,115.95 276.07,116.09 276.76,116.22 277.45,116.35 278.14,116.48 278.83,116.61 279.53,116.74 280.22,116.87 280.91,117 281.6,117.12 282.29,117.25 282.98,117.38 283.68,117.5 284.37,117.63 285.06,117.76 285.75,117.89 286.44,118.01 287.14,118.14 287.83,118.27 288.52,118.4 289.21,118.52 289.9,118.65 290.59,118.77 291.29,118.9 291.98,119.02 292.67,119.14 293.36,119.26 294.05,119.39 294.74,119.51 295.44,119.63 296.13,119.75 296.82,119.87 297.51,119.99 298.2,120.11 298.9,120.23 299.59,120.36 300.28,120.48 300.97,120.6" fill="none" stroke="#8E8EBC" stroke-width="0.7"/>
<polygon points="172.3,61.6 173.86,63.16 172.3,64.72 170.74,63.16" fill="#5B5B9C"/>
<polygon points="173.27,64.72 174.83,66.28 173.27,67.84 171.71,66.28" fill="#5B5B9C"/>
<polygon points="174.35,67.84 175.91,69.4 174.35,70.96 172.79,69.4" fill="#5B5B9C"/>
<polygon points="175.6,70.95 177.16,72.51 175.6,74.07 174.04,72.51" fill="#5B5B9C"/>
<polygon points="177.06,74.06 178.62,75.62 177.06,77.18 175.5,75.62" fill="#5B5B9C"/>
<polygon points="178.75,77.17 180.31,78.73 178.75,80.29 177.19,78.73" fill="#5B5B9C"/>
<polygon points="180.74,80.28 182.3,81.84 180.74,83.4 179.18,81.84" fill="#5B5B9C"/>
<polygon points="183.22,83.38 184.78,84.94 183.22,86.5 181.66,84.94" fill="#5B5B9C"/>
<polygon points="186.78,86.49 188.34,88.05 186.78,89.61 185.22,88.05" fill="#5B5B9C"/>
<polygon points="191.91,89.59 193.47,91.15 191.91,92.71 190.35,91.15" fill="#5B5B9C"/>
<polygon points="195.24,91.23 196.8,92.79 195.24,94.35 193.68,92.79" fill="#5B5B9C"/>
<polygon points="199.07,92.7 200.63,94.26 199.07,95.82 197.51,94.26" fill="#5B5B9C"/>
<polygon points="202.89,94.88 204.45,96.44 202.89,98 201.33,96.44" fill="#5B5B9C"/>
<polygon points="206.72,97.2 208.28,98.76 206.72,100.32 205.16,98.76" fill="#5B5B9C"/>
<polygon points="210.54,98.97 212.1,100.53 210.54,102.09 208.98,100.53" fill="#5B5B9C"/>
<polygon points="215.32,100.34 216.88,101.9 215.32,103.46 213.76,101.9" fill="#5B5B9C"/>
<polygon points="220.1,101.35 221.66,102.91 220.1,104.47 218.54,102.91" fill="#5B5B9C"/>
<polygon points="224.88,102.13 226.44,103.69 224.88,105.25 223.32,103.69" fill="#5B5B9C"/>
<polygon points="229.66,102.82 231.22,104.38 229.66,105.94 228.1,104.38" fill="#5B5B9C"/>
<polygon points="239.22,104.46 240.78,106.02 239.22,107.58 237.66,106.02" fill="#5B5B9C"/>
<polygon points="248.78,107.25 250.34,108.81 248.78,110.37 247.22,108.81" fill="#5B5B9C"/>
<polygon points="258.34,110.35 259.9,111.91 258.34,113.47 256.78,111.91" fill="#5B5B9C"/>
<polygon points="267.9,112.83 269.46,114.39 267.9,115.95 266.34,114.39" fill="#5B5B9C"/>
</g>
<text x="171.5" y="49.9" font-size="7.4" text-anchor="middle" font-family='"Liberation Serif", serif' fill="#333">0</text>
<text x="209.74" y="49.9" font-size="7.4" text-anchor="middle" font-family='"Liberation Serif", serif' fill="#333">40</text>
<text x="247.98" y="49.9" font-size="7.4" text-anchor="middle" font-family='"Liberation Serif", serif' fill="#333">80</text>
<text x="286.22" y="49.9" font-size="7.4" text-anchor="middle" font-family='"Liberation Serif", serif' fill="#333">120</text>
<text x="159.5" y="58" font-size="7.4" text-anchor="end" font-family='"Liberation Serif", serif' fill="#333">0</text>
<text x="159.5" y="89.05" font-size="7.4" text-anchor="end" font-family='"Liberation Serif", serif' fill="#333">10</text>
<text x="159.5" y="120.1" font-size="7.4" text-anchor="end" font-family='"Liberation Serif", serif' fill="#333">20</text>
<path d="M171.5 55.4V53.4 M209.74 55.4V53.4 M247.98 55.4V53.4 M286.22 55.4V53.4 M160.4 55.4H162.4 M160.4 86.45H162.4 M160.4 117.5H162.4" stroke="#555" stroke-width="0.8"/>
<rect x="410.5" y="55.1" width="124.7" height="62.7" fill="#fff" stroke="#555" stroke-width="0.9"/>
<clipPath id="c410"><rect x="410.5" y="55.1" width="124.7" height="62.7"/></clipPath>
<g clip-path="url(#c410)">
<polyline points="421.1,57.29 421.79,58.81 422.48,60.11 423.16,61.07 423.85,61.84 424.54,62.48 425.23,63.02 425.92,63.46 426.61,63.83 427.29,64.14 427.98,64.42 428.67,64.69 429.36,64.97 430.05,65.3 430.73,65.69 431.42,66.14 432.11,66.63 432.8,67.11 433.49,67.55 434.18,67.92 434.86,68.25 435.55,68.56 436.24,68.86 436.93,69.15 437.62,69.45 438.3,69.75 438.99,70.06 439.68,70.4 440.37,70.73 441.06,71.07 441.74,71.41 442.43,71.76 443.12,72.13 443.81,72.51 444.5,72.91 445.19,73.36 445.87,73.88 446.56,74.4 447.25,74.88 447.94,75.28 448.63,75.62 449.31,75.94 450,76.24 450.69,76.52 451.38,76.79 452.07,77.05 452.76,77.31 453.44,77.56 454.13,77.82 454.82,78.09 455.51,78.37 456.2,78.65 456.88,78.94 457.57,79.22 458.26,79.51 458.95,79.79 459.64,80.07 460.33,80.35 461.01,80.63 461.7,80.91 462.39,81.18 463.08,81.45 463.77,81.7 464.45,81.94 465.14,82.18 465.83,82.41 466.52,82.63 467.21,82.85 467.89,83.07 468.58,83.29 469.27,83.52 469.96,83.75 470.65,83.97 471.34,84.2 472.02,84.43 472.71,84.65 473.4,84.88 474.09,85.11 474.78,85.33 475.46,85.56 476.15,85.79 476.84,86.02 477.53,86.24 478.22,86.47 478.91,86.69 479.59,86.92 480.28,87.14 480.97,87.37 481.66,87.59 482.35,87.81 483.03,88.04 483.72,88.26 484.41,88.49 485.1,88.72 485.79,88.95 486.48,89.18 487.16,89.41 487.85,89.65 488.54,89.89 489.23,90.13 489.92,90.38 490.6,90.64 491.29,90.89 491.98,91.14 492.67,91.4 493.36,91.65 494.05,91.91 494.73,92.16 495.42,92.41 496.11,92.66 496.8,92.9 497.49,93.14 498.17,93.37 498.86,93.61 499.55,93.84 500.24,94.06 500.93,94.29 501.61,94.52 502.3,94.74 502.99,94.96 503.68,95.19 504.37,95.41 505.06,95.63 505.74,95.86 506.43,96.08 507.12,96.31 507.81,96.54 508.5,96.77 509.18,96.99 509.87,97.22 510.56,97.45 511.25,97.68 511.94,97.91 512.63,98.14 513.31,98.36 514,98.59 514.69,98.81 515.38,99.04 516.07,99.26 516.75,99.48 517.44,99.7 518.13,99.93 518.82,100.15 519.51,100.37 520.2,100.59 520.88,100.82 521.57,101.04 522.26,101.26 522.95,101.48 523.64,101.7 524.32,101.92 525.01,102.14 525.7,102.36 526.39,102.58 527.08,102.8 527.76,103.02 528.45,103.23 529.14,103.44 529.83,103.66 530.52,103.87 531.21,104.08 531.89,104.28 532.58,104.49 533.27,104.69 533.96,104.9 534.65,105.1 535.33,105.29 536.02,105.49 536.71,105.68 537.4,105.87 538.09,106.06 538.78,106.24 539.46,106.43 540.15,106.61 540.84,106.79 541.53,106.97 542.22,107.14 542.9,107.32 543.59,107.5 544.28,107.67 544.97,107.85 545.66,108.02 546.35,108.2 547.03,108.37 547.72,108.55 548.41,108.72 549.1,108.9 549.79,109.08 550.47,109.26 551.16,109.44 551.85,109.62 552.54,109.81 553.23,110 553.92,110.19 554.6,110.38 555.29,110.57 555.98,110.77 556.67,110.97 557.36,111.17 558.04,111.38" fill="none" stroke="#F55A5A" stroke-width="0.7"/>
<rect x="419.9" y="56.09" width="2.4" height="2.4" fill="#F00000"/>
<rect x="421.48" y="59.23" width="2.4" height="2.4" fill="#F00000"/>
<rect x="424.91" y="62.37" width="2.4" height="2.4" fill="#F00000"/>
<rect x="431.02" y="65.51" width="2.4" height="2.4" fill="#F00000"/>
<rect x="437.32" y="68.64" width="2.4" height="2.4" fill="#F00000"/>
<rect x="442.72" y="71.38" width="2.4" height="2.4" fill="#F00000"/>
<rect x="446.53" y="73.96" width="2.4" height="2.4" fill="#F00000"/>
<rect x="450.33" y="75.65" width="2.4" height="2.4" fill="#F00000"/>
<rect x="454.14" y="77.1" width="2.4" height="2.4" fill="#F00000"/>
<rect x="457.94" y="78.67" width="2.4" height="2.4" fill="#F00000"/>
<rect x="462.7" y="80.55" width="2.4" height="2.4" fill="#F00000"/>
<rect x="467.45" y="82.11" width="2.4" height="2.4" fill="#F00000"/>
<rect x="472.21" y="83.68" width="2.4" height="2.4" fill="#F00000"/>
<rect x="476.96" y="85.25" width="2.4" height="2.4" fill="#F00000"/>
<rect x="486.47" y="88.39" width="2.4" height="2.4" fill="#F00000"/>
<rect x="495.98" y="91.83" width="2.4" height="2.4" fill="#F00000"/>
<rect x="505.49" y="94.97" width="2.4" height="2.4" fill="#F00000"/>
<rect x="515" y="98.1" width="2.4" height="2.4" fill="#F00000"/>
<rect x="534.02" y="104.06" width="2.4" height="2.4" fill="#F00000"/>
<polyline points="421.1,57.61 421.79,60.53 422.48,62.44 423.16,63.98 423.85,65.39 424.54,66.7 425.23,67.9 425.92,68.96 426.61,69.87 427.29,70.65 427.98,71.35 428.67,72.01 429.36,72.67 430.05,73.36 430.73,74.06 431.42,74.76 432.11,75.46 432.8,76.14 433.49,76.81 434.18,77.45 434.86,78.08 435.55,78.68 436.24,79.27 436.93,79.85 437.62,80.42 438.3,80.98 438.99,81.53 439.68,82.09 440.37,82.65 441.06,83.22 441.74,83.77 442.43,84.3 443.12,84.79 443.81,85.24 444.5,85.66 445.19,86.07 445.87,86.45 446.56,86.81 447.25,87.16 447.94,87.49 448.63,87.78 449.31,88.05 450,88.31 450.69,88.59 451.38,88.89 452.07,89.23 452.76,89.62 453.44,90.04 454.13,90.46 454.82,90.87 455.51,91.24 456.2,91.61 456.88,91.96 457.57,92.3 458.26,92.63 458.95,92.95 459.64,93.25 460.33,93.54 461.01,93.82 461.7,94.09 462.39,94.36 463.08,94.62 463.77,94.87 464.45,95.11 465.14,95.33 465.83,95.55 466.52,95.76 467.21,95.98 467.89,96.21 468.58,96.46 469.27,96.73 469.96,97.03 470.65,97.34 471.34,97.66 472.02,98 472.71,98.33 473.4,98.67 474.09,99.03 474.78,99.39 475.46,99.77 476.15,100.15 476.84,100.53 477.53,100.88 478.22,101.21 478.91,101.52 479.59,101.82 480.28,102.11 480.97,102.4 481.66,102.67 482.35,102.94 483.03,103.21 483.72,103.47 484.41,103.73 485.1,103.99 485.79,104.24 486.48,104.5 487.16,104.76 487.85,105.02 488.54,105.27 489.23,105.53 489.92,105.79 490.6,106.05 491.29,106.3 491.98,106.56 492.67,106.81 493.36,107.06 494.05,107.3 494.73,107.55 495.42,107.79 496.11,108.03 496.8,108.26 497.49,108.5 498.17,108.73 498.86,108.96 499.55,109.19 500.24,109.42 500.93,109.64 501.61,109.86 502.3,110.09 502.99,110.31 503.68,110.53 504.37,110.75 505.06,110.96 505.74,111.18 506.43,111.4 507.12,111.61 507.81,111.82 508.5,112.03 509.18,112.25 509.87,112.46 510.56,112.66 511.25,112.87 511.94,113.08 512.63,113.29 513.31,113.49 514,113.7 514.69,113.9 515.38,114.11 516.07,114.31 516.75,114.51 517.44,114.72 518.13,114.91 518.82,115.11 519.51,115.31 520.2,115.5 520.88,115.69 521.57,115.88 522.26,116.07 522.95,116.26 523.64,116.45 524.32,116.64 525.01,116.83 525.7,117.01 526.39,117.2 527.08,117.39 527.76,117.58 528.45,117.77 529.14,117.95 529.83,118.14 530.52,118.34 531.21,118.53 531.89,118.72 532.58,118.92 533.27,119.11 533.96,119.31 534.65,119.51 535.33,119.71 536.02,119.92 536.71,120.13 537.4,120.34 538.09,120.55 538.78,120.76" fill="none" stroke="#6A90C4" stroke-width="0.7"/>
<circle cx="421.1" cy="57.61" r="1.28" fill="#2B62A6"/>
<circle cx="421.86" cy="60.75" r="1.28" fill="#2B62A6"/>
<circle cx="423.12" cy="63.89" r="1.28" fill="#2B62A6"/>
<circle cx="424.72" cy="67.04" r="1.28" fill="#2B62A6"/>
<circle cx="426.86" cy="70.17" r="1.28" fill="#2B62A6"/>
<circle cx="430" cy="73.31" r="1.28" fill="#2B62A6"/>
<circle cx="433.11" cy="76.45" r="1.28" fill="#2B62A6"/>
<circle cx="436.61" cy="79.59" r="1.28" fill="#2B62A6"/>
<circle cx="440.45" cy="82.72" r="1.28" fill="#2B62A6"/>
<circle cx="443.92" cy="85.31" r="1.28" fill="#2B62A6"/>
<circle cx="447.73" cy="87.39" r="1.28" fill="#2B62A6"/>
<circle cx="451.53" cy="88.96" r="1.28" fill="#2B62A6"/>
<circle cx="455.34" cy="91.15" r="1.28" fill="#2B62A6"/>
<circle cx="459.14" cy="93.03" r="1.28" fill="#2B62A6"/>
<circle cx="463.9" cy="94.91" r="1.28" fill="#2B62A6"/>
<circle cx="468.65" cy="96.48" r="1.28" fill="#2B62A6"/>
<circle cx="473.41" cy="98.68" r="1.28" fill="#2B62A6"/>
<circle cx="478.16" cy="101.18" r="1.28" fill="#2B62A6"/>
<circle cx="487.67" cy="104.95" r="1.28" fill="#2B62A6"/>
<circle cx="497.18" cy="108.39" r="1.28" fill="#2B62A6"/>
<circle cx="506.69" cy="111.48" r="1.28" fill="#2B62A6"/>
<circle cx="516.2" cy="114.35" r="1.28" fill="#2B62A6"/>
<polyline points="421.1,59.8 421.79,64.36 422.48,66.88 423.16,68.77 423.85,70.29 424.54,71.7 425.23,72.97 425.92,74.09 426.61,75.1 427.29,76.05 427.98,76.97 428.67,77.84 429.36,78.67 430.05,79.45 430.73,80.19 431.42,80.89 432.11,81.55 432.8,82.18 433.49,82.76 434.18,83.33 434.86,83.88 435.55,84.43 436.24,84.98 436.93,85.55 437.62,86.13 438.3,86.71 438.99,87.25 439.68,87.73 440.37,88.13 441.06,88.5 441.74,88.85 442.43,89.18 443.12,89.52 443.81,89.86 444.5,90.2 445.19,90.54 445.87,90.87 446.56,91.21 447.25,91.54 447.94,91.88 448.63,92.22 449.31,92.55 450,92.88 450.69,93.22 451.38,93.58 452.07,93.95 452.76,94.34 453.44,94.74 454.13,95.15 454.82,95.55 455.51,95.95 456.2,96.36 456.88,96.77 457.57,97.18 458.26,97.57 458.95,97.95 459.64,98.3 460.33,98.65 461.01,98.99 461.7,99.31 462.39,99.62 463.08,99.92 463.77,100.19 464.45,100.45 465.14,100.69 465.83,100.91 466.52,101.12 467.21,101.33 467.89,101.55 468.58,101.79 469.27,102.04 469.96,102.3 470.65,102.58 471.34,102.86 472.02,103.14 472.71,103.42 473.4,103.69 474.09,103.96 474.78,104.24 475.46,104.52 476.15,104.79 476.84,105.06 477.53,105.33 478.22,105.6 478.91,105.85 479.59,106.11 480.28,106.37 480.97,106.62 481.66,106.87 482.35,107.11 483.03,107.36 483.72,107.61 484.41,107.85 485.1,108.1 485.79,108.34 486.48,108.59 487.16,108.84 487.85,109.09 488.54,109.34 489.23,109.59 489.92,109.85 490.6,110.11 491.29,110.36 491.98,110.62 492.67,110.88 493.36,111.13 494.05,111.38 494.73,111.63 495.42,111.87 496.11,112.11 496.8,112.34 497.49,112.57 498.17,112.8 498.86,113.02 499.55,113.24 500.24,113.46 500.93,113.67 501.61,113.89 502.3,114.1 502.99,114.31 503.68,114.52 504.37,114.73 505.06,114.93 505.74,115.13 506.43,115.34 507.12,115.54 507.81,115.74 508.5,115.94 509.18,116.14 509.87,116.33 510.56,116.53 511.25,116.72 511.94,116.92 512.63,117.11 513.31,117.31 514,117.5 514.69,117.69 515.38,117.88 516.07,118.08 516.75,118.27 517.44,118.46 518.13,118.65 518.82,118.83 519.51,119.02 520.2,119.2 520.88,119.38 521.57,119.56 522.26,119.74 522.95,119.92 523.64,120.1 524.32,120.28 525.01,120.46 525.7,120.64 526.39,120.81" fill="none" stroke="#FACB5A" stroke-width="0.7"/>
<polygon points="421.1,58.3 419.5,61.06 422.7,61.06" fill="#FFB400"/>
<polygon points="421.48,61.44 419.89,64.2 423.08,64.2" fill="#FFB400"/>
<polygon points="422.24,64.59 420.64,67.35 423.83,67.35" fill="#FFB400"/>
<polygon points="423.36,67.73 421.77,70.49 424.96,70.49" fill="#FFB400"/>
<polygon points="424.89,70.87 423.3,73.63 426.49,73.63" fill="#FFB400"/>
<polygon points="426.9,74.01 425.3,76.77 428.5,76.77" fill="#FFB400"/>
<polygon points="429.34,77.15 427.75,79.91 430.94,79.91" fill="#FFB400"/>
<polygon points="432.36,80.28 430.77,83.04 433.96,83.04" fill="#FFB400"/>
<polygon points="436.17,83.42 434.57,86.18 437.77,86.18" fill="#FFB400"/>
<polygon points="440.23,86.56 438.64,89.32 441.83,89.32" fill="#FFB400"/>
<polygon points="443.92,88.42 442.33,91.18 445.52,91.18" fill="#FFB400"/>
<polygon points="447.73,90.28 446.13,93.04 449.32,93.04" fill="#FFB400"/>
<polygon points="451.53,92.16 449.94,94.92 453.13,94.92" fill="#FFB400"/>
<polygon points="455.34,94.35 453.74,97.11 456.93,97.11" fill="#FFB400"/>
<polygon points="459.14,96.55 457.54,99.31 460.74,99.31" fill="#FFB400"/>
<polygon points="463.9,98.74 462.3,101.5 465.49,101.5" fill="#FFB400"/>
<polygon points="468.65,100.31 467.05,103.07 470.25,103.07" fill="#FFB400"/>
<polygon points="473.41,102.19 471.81,104.95 475,104.95" fill="#FFB400"/>
<polygon points="478.16,104.07 476.56,106.83 479.76,106.83" fill="#FFB400"/>
<polygon points="487.67,107.52 486.07,110.28 489.27,110.28" fill="#FFB400"/>
<polygon points="497.18,110.97 495.58,113.73 498.78,113.73" fill="#FFB400"/>
<polygon points="506.69,113.91 505.09,116.67 508.29,116.67" fill="#FFB400"/>
<polyline points="421.1,59.8 421.79,67.56 422.48,70.62 423.16,72.15 423.85,73.26 424.54,74.45 425.23,75.6 425.92,76.67 426.61,77.67 427.29,78.63 427.98,79.56 428.67,80.47 429.36,81.32 430.05,82.11 430.73,82.81 431.42,83.44 432.11,84.03 432.8,84.58 433.49,85.1 434.18,85.6 434.86,86.09 435.55,86.58 436.24,87.06 436.93,87.51 437.62,87.95 438.3,88.39 438.99,88.84 439.68,89.3 440.37,89.77 441.06,90.27 441.74,90.76 442.43,91.24 443.12,91.69 443.81,92.11 444.5,92.51 445.19,92.9 445.87,93.27 446.56,93.64 447.25,94.02 447.94,94.41 448.63,94.8 449.31,95.18 450,95.58 450.69,95.98 451.38,96.39 452.07,96.82 452.76,97.28 453.44,97.74 454.13,98.21 454.82,98.66 455.51,99.1 456.2,99.52 456.88,99.93 457.57,100.33 458.26,100.72 458.95,101.09 459.64,101.44 460.33,101.78 461.01,102.12 461.7,102.44 462.39,102.76 463.08,103.05 463.77,103.33 464.45,103.59 465.14,103.82 465.83,104.04 466.52,104.25 467.21,104.47 467.89,104.69 468.58,104.92 469.27,105.18 469.96,105.45 470.65,105.73 471.34,106.01 472.02,106.3 472.71,106.57 473.4,106.83 474.09,107.06 474.78,107.29 475.46,107.51 476.15,107.72 476.84,107.94 477.53,108.17 478.22,108.42 478.91,108.68 479.59,108.95 480.28,109.23 480.97,109.52 481.66,109.82 482.35,110.13 483.03,110.43 483.72,110.74 484.41,111.05 485.1,111.36 485.79,111.67 486.48,111.97 487.16,112.26 487.85,112.55 488.54,112.83 489.23,113.11 489.92,113.4 490.6,113.69 491.29,113.97 491.98,114.25 492.67,114.53 493.36,114.8 494.05,115.08 494.73,115.34 495.42,115.6 496.11,115.85 496.8,116.1 497.49,116.34 498.17,116.57 498.86,116.79 499.55,117.01 500.24,117.23 500.93,117.43 501.61,117.64 502.3,117.84 502.99,118.04 503.68,118.23 504.37,118.43 505.06,118.62 505.74,118.81 506.43,119 507.12,119.18 507.81,119.37 508.5,119.56 509.18,119.75 509.87,119.95 510.56,120.14 511.25,120.34 511.94,120.54 512.63,120.74" fill="none" stroke="#6ACB94" stroke-width="0.7"/>
<polygon points="421.1,61.3 419.5,58.54 422.7,58.54" fill="#2EB462"/>
<polygon points="421.36,64.46 419.76,61.7 422.95,61.7" fill="#2EB462"/>
<polygon points="421.63,67.61 420.04,64.85 423.23,64.85" fill="#2EB462"/>
<polygon points="422.06,70.75 420.47,67.99 423.66,67.99" fill="#2EB462"/>
<polygon points="423.3,73.89 421.71,71.13 424.9,71.13" fill="#2EB462"/>
<polygon points="425.19,77.03 423.59,74.27 426.78,74.27" fill="#2EB462"/>
<polygon points="427.32,80.17 425.73,77.41 428.92,77.41" fill="#2EB462"/>
<polygon points="429.78,83.31 428.18,80.55 431.37,80.55" fill="#2EB462"/>
<polygon points="433.29,86.45 431.69,83.69 434.88,83.69" fill="#2EB462"/>
<polygon points="437.82,89.59 436.23,86.83 439.42,86.83" fill="#2EB462"/>
<polygon points="443.92,93.68 442.33,90.92 445.52,90.92" fill="#2EB462"/>
<polygon points="447.73,95.79 446.13,93.03 449.32,93.03" fill="#2EB462"/>
<polygon points="451.53,97.98 449.94,95.22 453.13,95.22" fill="#2EB462"/>
<polygon points="455.34,100.49 453.74,97.73 456.93,97.73" fill="#2EB462"/>
<polygon points="459.14,102.68 457.54,99.92 460.74,99.92" fill="#2EB462"/>
<polygon points="463.9,104.88 462.3,102.12 465.49,102.12" fill="#2EB462"/>
<polygon points="468.65,106.45 467.05,103.69 470.25,103.69" fill="#2EB462"/>
<polygon points="473.41,108.33 471.81,105.57 475,105.57" fill="#2EB462"/>
<polygon points="478.16,109.89 476.56,107.13 479.76,107.13" fill="#2EB462"/>
<polygon points="487.67,113.97 486.07,111.21 489.27,111.21" fill="#2EB462"/>
<polygon points="497.18,117.73 495.58,114.97 498.78,114.97" fill="#2EB462"/>
<polyline points="421.1,60.12 421.79,65.72 422.48,69.16 423.16,71.21 423.85,72.77 424.54,74.24 425.23,75.62 425.92,76.87 426.61,78.01 427.29,79.06 427.98,80.03 428.67,80.93 429.36,81.78 430.05,82.58 430.73,83.34 431.42,84.07 432.11,84.76 432.8,85.4 433.49,86 434.18,86.55 434.86,87.04 435.55,87.51 436.24,87.95 436.93,88.38 437.62,88.81 438.3,89.26 438.99,89.73 439.68,90.24 440.37,90.81 441.06,91.43 441.74,92.07 442.43,92.68 443.12,93.24 443.81,93.74 444.5,94.18 445.19,94.6 445.87,95.01 446.56,95.42 447.25,95.85 447.94,96.31 448.63,96.81 449.31,97.33 450,97.86 450.69,98.38 451.38,98.88 452.07,99.36 452.76,99.84 453.44,100.31 454.13,100.77 454.82,101.2 455.51,101.59 456.2,101.97 456.88,102.32 457.57,102.66 458.26,102.98 458.95,103.29 459.64,103.59 460.33,103.87 461.01,104.14 461.7,104.4 462.39,104.66 463.08,104.93 463.77,105.21 464.45,105.5 465.14,105.82 465.83,106.15 466.52,106.48 467.21,106.8 467.89,107.12 468.58,107.43 469.27,107.71 469.96,107.98 470.65,108.24 471.34,108.5 472.02,108.76 472.71,109.04 473.4,109.33 474.09,109.66 474.78,110.02 475.46,110.4 476.15,110.78 476.84,111.16 477.53,111.53 478.22,111.87 478.91,112.19 479.59,112.5 480.28,112.81 480.97,113.1 481.66,113.39 482.35,113.67 483.03,113.95 483.72,114.23 484.41,114.52 485.1,114.8 485.79,115.09 486.48,115.39 487.16,115.69 487.85,116 488.54,116.33 489.23,116.66 489.92,117 490.6,117.34 491.29,117.69 491.98,118.04 492.67,118.39 493.36,118.74 494.05,119.09 494.73,119.44 495.42,119.78 496.11,120.12 496.8,120.44 497.49,120.76" fill="none" stroke="#8E8EBC" stroke-width="0.7"/>
<polygon points="421.1,58.56 422.66,60.12 421.1,61.68 419.54,60.12" fill="#5B5B9C"/>
<polygon points="421.47,61.69 423.03,63.25 421.47,64.81 419.91,63.25" fill="#5B5B9C"/>
<polygon points="421.89,64.84 423.45,66.4 421.89,67.96 420.33,66.4" fill="#5B5B9C"/>
<polygon points="422.59,67.98 424.15,69.54 422.59,71.1 421.03,69.54" fill="#5B5B9C"/>
<polygon points="423.81,71.12 425.37,72.68 423.81,74.24 422.25,72.68" fill="#5B5B9C"/>
<polygon points="425.34,74.26 426.9,75.82 425.34,77.38 423.78,75.82" fill="#5B5B9C"/>
<polygon points="427.23,77.4 428.79,78.96 427.23,80.52 425.67,78.96" fill="#5B5B9C"/>
<polygon points="429.63,80.54 431.19,82.1 429.63,83.66 428.07,82.1" fill="#5B5B9C"/>
<polygon points="432.62,83.68 434.18,85.24 432.62,86.8 431.06,85.24" fill="#5B5B9C"/>
<polygon points="436.92,86.81 438.48,88.37 436.92,89.93 435.36,88.37" fill="#5B5B9C"/>
<polygon points="441.14,89.95 442.7,91.51 441.14,93.07 439.58,91.51" fill="#5B5B9C"/>
<polygon points="443.92,92.25 445.48,93.81 443.92,95.37 442.36,93.81" fill="#5B5B9C"/>
<polygon points="447.73,94.61 449.29,96.17 447.73,97.73 446.17,96.17" fill="#5B5B9C"/>
<polygon points="451.53,97.43 453.09,98.99 451.53,100.55 449.97,98.99" fill="#5B5B9C"/>
<polygon points="455.34,99.94 456.9,101.5 455.34,103.06 453.78,101.5" fill="#5B5B9C"/>
<polygon points="459.14,101.82 460.7,103.38 459.14,104.94 457.58,103.38" fill="#5B5B9C"/>
<polygon points="463.9,103.7 465.46,105.26 463.9,106.82 462.34,105.26" fill="#5B5B9C"/>
<polygon points="468.65,105.89 470.21,107.45 468.65,109.01 467.09,107.45" fill="#5B5B9C"/>
<polygon points="473.41,107.78 474.97,109.34 473.41,110.9 471.85,109.34" fill="#5B5B9C"/>
<polygon points="478.16,110.28 479.72,111.84 478.16,113.4 476.6,111.84" fill="#5B5B9C"/>
<polygon points="487.67,114.36 489.23,115.92 487.67,117.48 486.11,115.92" fill="#5B5B9C"/>
</g>
<text x="421.1" y="49.6" font-size="7.4" text-anchor="middle" font-family='"Liberation Serif", serif' fill="#333">0</text>
<text x="459.14" y="49.6" font-size="7.4" text-anchor="middle" font-family='"Liberation Serif", serif' fill="#333">40</text>
<text x="497.18" y="49.6" font-size="7.4" text-anchor="middle" font-family='"Liberation Serif", serif' fill="#333">80</text>
<text x="535.22" y="49.6" font-size="7.4" text-anchor="middle" font-family='"Liberation Serif", serif' fill="#333">120</text>
<text x="408" y="57.7" font-size="7.4" text-anchor="end" font-family='"Liberation Serif", serif' fill="#333">0</text>
<text x="408" y="89.05" font-size="7.4" text-anchor="end" font-family='"Liberation Serif", serif' fill="#333">10</text>
<text x="408" y="120.4" font-size="7.4" text-anchor="end" font-family='"Liberation Serif", serif' fill="#333">20</text>
<path d="M421.1 55.1V53.1 M459.14 55.1V53.1 M497.18 55.1V53.1 M535.22 55.1V53.1 M408.5 55.1H410.5 M408.5 86.45H410.5 M408.5 117.8H410.5" stroke="#555" stroke-width="0.8"/>
<path d="M45.5 40.2V222.3" stroke="#808080" stroke-width="1" fill="none"/>
<path d="M295.5 40V222.3" stroke="#777" stroke-width="1" fill="none"/>
<path d="M45 40.3H544.5" stroke="#111" stroke-width="1.3" fill="none"/>
<path d="M544.5 40V222.5H45.5" stroke="#111" stroke-width="1.3" fill="none"/>
<path d="M45.5 222.5V330.5 M544.5 330.5V222.5 M295.5 222.5V330.5" stroke="#8a8a8a" stroke-width="1" fill="none"/>
<path d="M45.5 330.5H544.5" stroke="#505050" stroke-width="1" fill="none"/>
<path d="M45.5 330.5V438.5H544.5V330.5 M295.5 330.5V438.5" stroke="#222" stroke-width="1.1" fill="none"/>
</svg></body></html>
